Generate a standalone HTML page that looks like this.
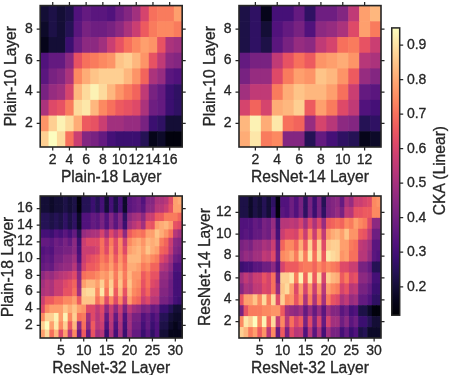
<!DOCTYPE html><html><head><meta charset="utf-8"><style>html,body{margin:0;padding:0;background:#fff;width:449px;height:375px;overflow:hidden}svg{display:block;will-change:transform;filter:blur(0.35px)}text{font-family:"Liberation Sans",sans-serif;fill:#262626;stroke:#262626;stroke-width:0.3px}</style></head><body>
<svg width="449" height="375" viewBox="0 0 449 375">
<rect x="0" y="0" width="449" height="375" fill="#fff"/>
<g><rect x="40.20" y="5.60" width="8.95" height="16.31" fill="#140e36"/><rect x="48.55" y="5.60" width="8.95" height="16.31" fill="#1d1147"/><rect x="56.91" y="5.60" width="8.95" height="16.31" fill="#140e36"/><rect x="65.26" y="5.60" width="8.95" height="16.31" fill="#1d1147"/><rect x="73.61" y="5.60" width="8.95" height="16.31" fill="#51127c"/><rect x="81.96" y="5.60" width="8.95" height="16.31" fill="#641a80"/><rect x="90.32" y="5.60" width="8.95" height="16.31" fill="#5a167e"/><rect x="98.67" y="5.60" width="8.95" height="16.31" fill="#5a167e"/><rect x="107.02" y="5.60" width="8.95" height="16.31" fill="#51127c"/><rect x="115.38" y="5.60" width="8.95" height="16.31" fill="#6e1e81"/><rect x="123.73" y="5.60" width="8.95" height="16.31" fill="#832681"/><rect x="132.08" y="5.60" width="8.95" height="16.31" fill="#a1307e"/><rect x="140.44" y="5.60" width="8.95" height="16.31" fill="#d5446d"/><rect x="148.79" y="5.60" width="8.95" height="16.31" fill="#f7705c"/><rect x="157.14" y="5.60" width="8.95" height="16.31" fill="#f97b5d"/><rect x="165.49" y="5.60" width="8.95" height="16.31" fill="#f97b5d"/><rect x="173.85" y="5.60" width="8.35" height="16.31" fill="#fe9f6d"/><rect x="40.20" y="21.31" width="8.95" height="16.31" fill="#0d0a29"/><rect x="48.55" y="21.31" width="8.95" height="16.31" fill="#1d1147"/><rect x="56.91" y="21.31" width="8.95" height="16.31" fill="#140e36"/><rect x="65.26" y="21.31" width="8.95" height="16.31" fill="#251255"/><rect x="73.61" y="21.31" width="8.95" height="16.31" fill="#5a167e"/><rect x="81.96" y="21.31" width="8.95" height="16.31" fill="#782281"/><rect x="90.32" y="21.31" width="8.95" height="16.31" fill="#6e1e81"/><rect x="98.67" y="21.31" width="8.95" height="16.31" fill="#6e1e81"/><rect x="107.02" y="21.31" width="8.95" height="16.31" fill="#782281"/><rect x="115.38" y="21.31" width="8.95" height="16.31" fill="#8c2981"/><rect x="123.73" y="21.31" width="8.95" height="16.31" fill="#ab337c"/><rect x="132.08" y="21.31" width="8.95" height="16.31" fill="#ca3e72"/><rect x="140.44" y="21.31" width="8.95" height="16.31" fill="#ed5a5f"/><rect x="148.79" y="21.31" width="8.95" height="16.31" fill="#f97b5d"/><rect x="157.14" y="21.31" width="8.95" height="16.31" fill="#fc8961"/><rect x="165.49" y="21.31" width="8.95" height="16.31" fill="#fc8961"/><rect x="173.85" y="21.31" width="8.35" height="16.31" fill="#f97b5d"/><rect x="40.20" y="37.02" width="8.95" height="16.31" fill="#06051a"/><rect x="48.55" y="37.02" width="8.95" height="16.31" fill="#140e36"/><rect x="56.91" y="37.02" width="8.95" height="16.31" fill="#140e36"/><rect x="65.26" y="37.02" width="8.95" height="16.31" fill="#3b0f70"/><rect x="73.61" y="37.02" width="8.95" height="16.31" fill="#6e1e81"/><rect x="81.96" y="37.02" width="8.95" height="16.31" fill="#8c2981"/><rect x="90.32" y="37.02" width="8.95" height="16.31" fill="#8c2981"/><rect x="98.67" y="37.02" width="8.95" height="16.31" fill="#a1307e"/><rect x="107.02" y="37.02" width="8.95" height="16.31" fill="#ca3e72"/><rect x="115.38" y="37.02" width="8.95" height="16.31" fill="#e75263"/><rect x="123.73" y="37.02" width="8.95" height="16.31" fill="#f7705c"/><rect x="132.08" y="37.02" width="8.95" height="16.31" fill="#fc8961"/><rect x="140.44" y="37.02" width="8.95" height="16.31" fill="#fe9f6d"/><rect x="148.79" y="37.02" width="8.95" height="16.31" fill="#fd9467"/><rect x="157.14" y="37.02" width="8.95" height="16.31" fill="#e75263"/><rect x="165.49" y="37.02" width="8.95" height="16.31" fill="#ab337c"/><rect x="173.85" y="37.02" width="8.35" height="16.31" fill="#a1307e"/><rect x="40.20" y="52.73" width="8.95" height="16.31" fill="#51127c"/><rect x="48.55" y="52.73" width="8.95" height="16.31" fill="#641a80"/><rect x="56.91" y="52.73" width="8.95" height="16.31" fill="#641a80"/><rect x="65.26" y="52.73" width="8.95" height="16.31" fill="#8c2981"/><rect x="73.61" y="52.73" width="8.95" height="16.31" fill="#e75263"/><rect x="81.96" y="52.73" width="8.95" height="16.31" fill="#f7705c"/><rect x="90.32" y="52.73" width="8.95" height="16.31" fill="#f97b5d"/><rect x="98.67" y="52.73" width="8.95" height="16.31" fill="#fc8961"/><rect x="107.02" y="52.73" width="8.95" height="16.31" fill="#fd9467"/><rect x="115.38" y="52.73" width="8.95" height="16.31" fill="#fec488"/><rect x="123.73" y="52.73" width="8.95" height="16.31" fill="#fecf92"/><rect x="132.08" y="52.73" width="8.95" height="16.31" fill="#feb77e"/><rect x="140.44" y="52.73" width="8.95" height="16.31" fill="#fd9467"/><rect x="148.79" y="52.73" width="8.95" height="16.31" fill="#e75263"/><rect x="157.14" y="52.73" width="8.95" height="16.31" fill="#c03a76"/><rect x="165.49" y="52.73" width="8.95" height="16.31" fill="#8c2981"/><rect x="173.85" y="52.73" width="8.35" height="16.31" fill="#832681"/><rect x="40.20" y="68.44" width="8.95" height="16.31" fill="#5a167e"/><rect x="48.55" y="68.44" width="8.95" height="16.31" fill="#782281"/><rect x="56.91" y="68.44" width="8.95" height="16.31" fill="#832681"/><rect x="65.26" y="68.44" width="8.95" height="16.31" fill="#ab337c"/><rect x="73.61" y="68.44" width="8.95" height="16.31" fill="#fc8961"/><rect x="81.96" y="68.44" width="8.95" height="16.31" fill="#feac76"/><rect x="90.32" y="68.44" width="8.95" height="16.31" fill="#fec488"/><rect x="98.67" y="68.44" width="8.95" height="16.31" fill="#fecf92"/><rect x="107.02" y="68.44" width="8.95" height="16.31" fill="#fecf92"/><rect x="115.38" y="68.44" width="8.95" height="16.31" fill="#fecf92"/><rect x="123.73" y="68.44" width="8.95" height="16.31" fill="#feb77e"/><rect x="132.08" y="68.44" width="8.95" height="16.31" fill="#fd9467"/><rect x="140.44" y="68.44" width="8.95" height="16.31" fill="#f2645c"/><rect x="148.79" y="68.44" width="8.95" height="16.31" fill="#ab337c"/><rect x="157.14" y="68.44" width="8.95" height="16.31" fill="#962c80"/><rect x="165.49" y="68.44" width="8.95" height="16.31" fill="#5a167e"/><rect x="173.85" y="68.44" width="8.35" height="16.31" fill="#51127c"/><rect x="40.20" y="84.16" width="8.95" height="16.31" fill="#782281"/><rect x="48.55" y="84.16" width="8.95" height="16.31" fill="#962c80"/><rect x="56.91" y="84.16" width="8.95" height="16.31" fill="#a1307e"/><rect x="65.26" y="84.16" width="8.95" height="16.31" fill="#d5446d"/><rect x="73.61" y="84.16" width="8.95" height="16.31" fill="#feb77e"/><rect x="81.96" y="84.16" width="8.95" height="16.31" fill="#fdda9c"/><rect x="90.32" y="84.16" width="8.95" height="16.31" fill="#fcf2b4"/><rect x="98.67" y="84.16" width="8.95" height="16.31" fill="#fdda9c"/><rect x="107.02" y="84.16" width="8.95" height="16.31" fill="#feb77e"/><rect x="115.38" y="84.16" width="8.95" height="16.31" fill="#fd9467"/><rect x="123.73" y="84.16" width="8.95" height="16.31" fill="#f97b5d"/><rect x="132.08" y="84.16" width="8.95" height="16.31" fill="#f2645c"/><rect x="140.44" y="84.16" width="8.95" height="16.31" fill="#c03a76"/><rect x="148.79" y="84.16" width="8.95" height="16.31" fill="#782281"/><rect x="157.14" y="84.16" width="8.95" height="16.31" fill="#641a80"/><rect x="165.49" y="84.16" width="8.95" height="16.31" fill="#3b0f70"/><rect x="173.85" y="84.16" width="8.35" height="16.31" fill="#2f1163"/><rect x="40.20" y="99.87" width="8.95" height="16.31" fill="#ab337c"/><rect x="48.55" y="99.87" width="8.95" height="16.31" fill="#de4968"/><rect x="56.91" y="99.87" width="8.95" height="16.31" fill="#e75263"/><rect x="65.26" y="99.87" width="8.95" height="16.31" fill="#f97b5d"/><rect x="73.61" y="99.87" width="8.95" height="16.31" fill="#fdda9c"/><rect x="81.96" y="99.87" width="8.95" height="16.31" fill="#fde7a9"/><rect x="90.32" y="99.87" width="8.95" height="16.31" fill="#feb77e"/><rect x="98.67" y="99.87" width="8.95" height="16.31" fill="#fc8961"/><rect x="107.02" y="99.87" width="8.95" height="16.31" fill="#f7705c"/><rect x="115.38" y="99.87" width="8.95" height="16.31" fill="#ed5a5f"/><rect x="123.73" y="99.87" width="8.95" height="16.31" fill="#e75263"/><rect x="132.08" y="99.87" width="8.95" height="16.31" fill="#de4968"/><rect x="140.44" y="99.87" width="8.95" height="16.31" fill="#ab337c"/><rect x="148.79" y="99.87" width="8.95" height="16.31" fill="#6e1e81"/><rect x="157.14" y="99.87" width="8.95" height="16.31" fill="#641a80"/><rect x="165.49" y="99.87" width="8.95" height="16.31" fill="#3b0f70"/><rect x="173.85" y="99.87" width="8.35" height="16.31" fill="#2f1163"/><rect x="40.20" y="115.58" width="8.95" height="16.31" fill="#fd9467"/><rect x="48.55" y="115.58" width="8.95" height="16.31" fill="#fecf92"/><rect x="56.91" y="115.58" width="8.95" height="16.31" fill="#fcf2b4"/><rect x="65.26" y="115.58" width="8.95" height="16.31" fill="#fdda9c"/><rect x="73.61" y="115.58" width="8.95" height="16.31" fill="#feac76"/><rect x="81.96" y="115.58" width="8.95" height="16.31" fill="#ed5a5f"/><rect x="90.32" y="115.58" width="8.95" height="16.31" fill="#e75263"/><rect x="98.67" y="115.58" width="8.95" height="16.31" fill="#ca3e72"/><rect x="107.02" y="115.58" width="8.95" height="16.31" fill="#a1307e"/><rect x="115.38" y="115.58" width="8.95" height="16.31" fill="#a1307e"/><rect x="123.73" y="115.58" width="8.95" height="16.31" fill="#962c80"/><rect x="132.08" y="115.58" width="8.95" height="16.31" fill="#962c80"/><rect x="140.44" y="115.58" width="8.95" height="16.31" fill="#782281"/><rect x="148.79" y="115.58" width="8.95" height="16.31" fill="#3b0f70"/><rect x="157.14" y="115.58" width="8.95" height="16.31" fill="#2f1163"/><rect x="165.49" y="115.58" width="8.95" height="16.31" fill="#140e36"/><rect x="173.85" y="115.58" width="8.35" height="16.31" fill="#140e36"/><rect x="40.20" y="131.29" width="8.95" height="15.71" fill="#fecf92"/><rect x="48.55" y="131.29" width="8.95" height="15.71" fill="#fcfdbf"/><rect x="56.91" y="131.29" width="8.95" height="15.71" fill="#fdda9c"/><rect x="65.26" y="131.29" width="8.95" height="15.71" fill="#f7705c"/><rect x="73.61" y="131.29" width="8.95" height="15.71" fill="#ca3e72"/><rect x="81.96" y="131.29" width="8.95" height="15.71" fill="#832681"/><rect x="90.32" y="131.29" width="8.95" height="15.71" fill="#782281"/><rect x="98.67" y="131.29" width="8.95" height="15.71" fill="#641a80"/><rect x="107.02" y="131.29" width="8.95" height="15.71" fill="#451077"/><rect x="115.38" y="131.29" width="8.95" height="15.71" fill="#3b0f70"/><rect x="123.73" y="131.29" width="8.95" height="15.71" fill="#3b0f70"/><rect x="132.08" y="131.29" width="8.95" height="15.71" fill="#3b0f70"/><rect x="140.44" y="131.29" width="8.95" height="15.71" fill="#251255"/><rect x="148.79" y="131.29" width="8.95" height="15.71" fill="#06051a"/><rect x="157.14" y="131.29" width="8.95" height="15.71" fill="#0d0a29"/><rect x="165.49" y="131.29" width="8.95" height="15.71" fill="#02020d"/><rect x="173.85" y="131.29" width="8.35" height="15.71" fill="#02020d"/></g>
<rect x="40.20" y="5.60" width="142.00" height="141.40" fill="none" stroke="#262626" stroke-width="1.6"/>
<text x="52.73" y="164.10" font-size="14" text-anchor="middle">2</text>
<text x="69.44" y="164.10" font-size="14" text-anchor="middle">4</text>
<text x="86.14" y="164.10" font-size="14" text-anchor="middle">6</text>
<text x="102.85" y="164.10" font-size="14" text-anchor="middle">8</text>
<text x="119.55" y="164.10" font-size="14" text-anchor="middle">10</text>
<text x="136.26" y="164.10" font-size="14" text-anchor="middle">12</text>
<text x="152.96" y="164.10" font-size="14" text-anchor="middle">14</text>
<text x="169.67" y="164.10" font-size="14" text-anchor="middle">16</text>
<text x="32.70" y="126.78" font-size="14" text-anchor="end">2</text>
<text x="32.70" y="95.36" font-size="14" text-anchor="end">4</text>
<text x="32.70" y="63.94" font-size="14" text-anchor="end">6</text>
<text x="32.70" y="32.52" font-size="14" text-anchor="end">8</text>
<path d="M52.73 147.00V150.50M52.73 5.60V2.10M69.44 147.00V150.50M69.44 5.60V2.10M86.14 147.00V150.50M86.14 5.60V2.10M102.85 147.00V150.50M102.85 5.60V2.10M119.55 147.00V150.50M119.55 5.60V2.10M136.26 147.00V150.50M136.26 5.60V2.10M152.96 147.00V150.50M152.96 5.60V2.10M169.67 147.00V150.50M169.67 5.60V2.10M40.20 123.43H36.70M182.20 123.43H185.70M40.20 92.01H36.70M182.20 92.01H185.70M40.20 60.59H36.70M182.20 60.59H185.70M40.20 29.17H36.70M182.20 29.17H185.70" stroke="#262626" stroke-width="1.25" fill="none"/>
<text x="111.20" y="181.90" font-size="15.6" text-anchor="middle">Plain-18 Layer</text>
<text transform="translate(15.70 76.30) rotate(-90)" font-size="15.6" text-anchor="middle">Plain-10 Layer</text>
<g><rect x="239.00" y="5.60" width="11.52" height="16.31" fill="#1d1147"/><rect x="249.92" y="5.60" width="11.52" height="16.31" fill="#2f1163"/><rect x="260.85" y="5.60" width="11.52" height="16.31" fill="#06051a"/><rect x="271.77" y="5.60" width="11.52" height="16.31" fill="#451077"/><rect x="282.69" y="5.60" width="11.52" height="16.31" fill="#451077"/><rect x="293.62" y="5.60" width="11.52" height="16.31" fill="#641a80"/><rect x="304.54" y="5.60" width="11.52" height="16.31" fill="#2f1163"/><rect x="315.46" y="5.60" width="11.52" height="16.31" fill="#6e1e81"/><rect x="326.38" y="5.60" width="11.52" height="16.31" fill="#6e1e81"/><rect x="337.31" y="5.60" width="11.52" height="16.31" fill="#832681"/><rect x="348.23" y="5.60" width="11.52" height="16.31" fill="#c03a76"/><rect x="359.15" y="5.60" width="11.52" height="16.31" fill="#fe9f6d"/><rect x="370.08" y="5.60" width="10.92" height="16.31" fill="#feb77e"/><rect x="239.00" y="21.31" width="11.52" height="16.31" fill="#1d1147"/><rect x="249.92" y="21.31" width="11.52" height="16.31" fill="#2f1163"/><rect x="260.85" y="21.31" width="11.52" height="16.31" fill="#140e36"/><rect x="271.77" y="21.31" width="11.52" height="16.31" fill="#51127c"/><rect x="282.69" y="21.31" width="11.52" height="16.31" fill="#641a80"/><rect x="293.62" y="21.31" width="11.52" height="16.31" fill="#782281"/><rect x="304.54" y="21.31" width="11.52" height="16.31" fill="#51127c"/><rect x="315.46" y="21.31" width="11.52" height="16.31" fill="#8c2981"/><rect x="326.38" y="21.31" width="11.52" height="16.31" fill="#962c80"/><rect x="337.31" y="21.31" width="11.52" height="16.31" fill="#ab337c"/><rect x="348.23" y="21.31" width="11.52" height="16.31" fill="#de4968"/><rect x="359.15" y="21.31" width="11.52" height="16.31" fill="#fe9f6d"/><rect x="370.08" y="21.31" width="10.92" height="16.31" fill="#f97b5d"/><rect x="239.00" y="37.02" width="11.52" height="16.31" fill="#1d1147"/><rect x="249.92" y="37.02" width="11.52" height="16.31" fill="#2f1163"/><rect x="260.85" y="37.02" width="11.52" height="16.31" fill="#1d1147"/><rect x="271.77" y="37.02" width="11.52" height="16.31" fill="#5a167e"/><rect x="282.69" y="37.02" width="11.52" height="16.31" fill="#782281"/><rect x="293.62" y="37.02" width="11.52" height="16.31" fill="#962c80"/><rect x="304.54" y="37.02" width="11.52" height="16.31" fill="#8c2981"/><rect x="315.46" y="37.02" width="11.52" height="16.31" fill="#c03a76"/><rect x="326.38" y="37.02" width="11.52" height="16.31" fill="#d5446d"/><rect x="337.31" y="37.02" width="11.52" height="16.31" fill="#f7705c"/><rect x="348.23" y="37.02" width="11.52" height="16.31" fill="#f97b5d"/><rect x="359.15" y="37.02" width="11.52" height="16.31" fill="#e75263"/><rect x="370.08" y="37.02" width="10.92" height="16.31" fill="#ca3e72"/><rect x="239.00" y="52.73" width="11.52" height="16.31" fill="#641a80"/><rect x="249.92" y="52.73" width="11.52" height="16.31" fill="#782281"/><rect x="260.85" y="52.73" width="11.52" height="16.31" fill="#782281"/><rect x="271.77" y="52.73" width="11.52" height="16.31" fill="#c03a76"/><rect x="282.69" y="52.73" width="11.52" height="16.31" fill="#e75263"/><rect x="293.62" y="52.73" width="11.52" height="16.31" fill="#f7705c"/><rect x="304.54" y="52.73" width="11.52" height="16.31" fill="#ed5a5f"/><rect x="315.46" y="52.73" width="11.52" height="16.31" fill="#fd9467"/><rect x="326.38" y="52.73" width="11.52" height="16.31" fill="#fe9f6d"/><rect x="337.31" y="52.73" width="11.52" height="16.31" fill="#feac76"/><rect x="348.23" y="52.73" width="11.52" height="16.31" fill="#fd9467"/><rect x="359.15" y="52.73" width="11.52" height="16.31" fill="#b73779"/><rect x="370.08" y="52.73" width="10.92" height="16.31" fill="#ab337c"/><rect x="239.00" y="68.44" width="11.52" height="16.31" fill="#782281"/><rect x="249.92" y="68.44" width="11.52" height="16.31" fill="#962c80"/><rect x="260.85" y="68.44" width="11.52" height="16.31" fill="#962c80"/><rect x="271.77" y="68.44" width="11.52" height="16.31" fill="#de4968"/><rect x="282.69" y="68.44" width="11.52" height="16.31" fill="#f97b5d"/><rect x="293.62" y="68.44" width="11.52" height="16.31" fill="#fe9f6d"/><rect x="304.54" y="68.44" width="11.52" height="16.31" fill="#fd9467"/><rect x="315.46" y="68.44" width="11.52" height="16.31" fill="#fec488"/><rect x="326.38" y="68.44" width="11.52" height="16.31" fill="#feb77e"/><rect x="337.31" y="68.44" width="11.52" height="16.31" fill="#fd9467"/><rect x="348.23" y="68.44" width="11.52" height="16.31" fill="#ed5a5f"/><rect x="359.15" y="68.44" width="11.52" height="16.31" fill="#962c80"/><rect x="370.08" y="68.44" width="10.92" height="16.31" fill="#832681"/><rect x="239.00" y="84.16" width="11.52" height="16.31" fill="#a1307e"/><rect x="249.92" y="84.16" width="11.52" height="16.31" fill="#c03a76"/><rect x="260.85" y="84.16" width="11.52" height="16.31" fill="#c03a76"/><rect x="271.77" y="84.16" width="11.52" height="16.31" fill="#f97b5d"/><rect x="282.69" y="84.16" width="11.52" height="16.31" fill="#feac76"/><rect x="293.62" y="84.16" width="11.52" height="16.31" fill="#fec488"/><rect x="304.54" y="84.16" width="11.52" height="16.31" fill="#feb77e"/><rect x="315.46" y="84.16" width="11.52" height="16.31" fill="#feb77e"/><rect x="326.38" y="84.16" width="11.52" height="16.31" fill="#fe9f6d"/><rect x="337.31" y="84.16" width="11.52" height="16.31" fill="#f7705c"/><rect x="348.23" y="84.16" width="11.52" height="16.31" fill="#ca3e72"/><rect x="359.15" y="84.16" width="11.52" height="16.31" fill="#641a80"/><rect x="370.08" y="84.16" width="10.92" height="16.31" fill="#5a167e"/><rect x="239.00" y="99.87" width="11.52" height="16.31" fill="#d5446d"/><rect x="249.92" y="99.87" width="11.52" height="16.31" fill="#f2645c"/><rect x="260.85" y="99.87" width="11.52" height="16.31" fill="#d5446d"/><rect x="271.77" y="99.87" width="11.52" height="16.31" fill="#feac76"/><rect x="282.69" y="99.87" width="11.52" height="16.31" fill="#feb77e"/><rect x="293.62" y="99.87" width="11.52" height="16.31" fill="#fecf92"/><rect x="304.54" y="99.87" width="11.52" height="16.31" fill="#ed5a5f"/><rect x="315.46" y="99.87" width="11.52" height="16.31" fill="#fe9f6d"/><rect x="326.38" y="99.87" width="11.52" height="16.31" fill="#f97b5d"/><rect x="337.31" y="99.87" width="11.52" height="16.31" fill="#de4968"/><rect x="348.23" y="99.87" width="11.52" height="16.31" fill="#c03a76"/><rect x="359.15" y="99.87" width="11.52" height="16.31" fill="#51127c"/><rect x="370.08" y="99.87" width="10.92" height="16.31" fill="#451077"/><rect x="239.00" y="115.58" width="11.52" height="16.31" fill="#feb77e"/><rect x="249.92" y="115.58" width="11.52" height="16.31" fill="#fcf2b4"/><rect x="260.85" y="115.58" width="11.52" height="16.31" fill="#feac76"/><rect x="271.77" y="115.58" width="11.52" height="16.31" fill="#fde7a9"/><rect x="282.69" y="115.58" width="11.52" height="16.31" fill="#f7705c"/><rect x="293.62" y="115.58" width="11.52" height="16.31" fill="#f2645c"/><rect x="304.54" y="115.58" width="11.52" height="16.31" fill="#962c80"/><rect x="315.46" y="115.58" width="11.52" height="16.31" fill="#d5446d"/><rect x="326.38" y="115.58" width="11.52" height="16.31" fill="#b73779"/><rect x="337.31" y="115.58" width="11.52" height="16.31" fill="#8c2981"/><rect x="348.23" y="115.58" width="11.52" height="16.31" fill="#832681"/><rect x="359.15" y="115.58" width="11.52" height="16.31" fill="#251255"/><rect x="370.08" y="115.58" width="10.92" height="16.31" fill="#2f1163"/><rect x="239.00" y="131.29" width="11.52" height="15.71" fill="#feac76"/><rect x="249.92" y="131.29" width="11.52" height="15.71" fill="#fde7a9"/><rect x="260.85" y="131.29" width="11.52" height="15.71" fill="#f97b5d"/><rect x="271.77" y="131.29" width="11.52" height="15.71" fill="#fc8961"/><rect x="282.69" y="131.29" width="11.52" height="15.71" fill="#832681"/><rect x="293.62" y="131.29" width="11.52" height="15.71" fill="#832681"/><rect x="304.54" y="131.29" width="11.52" height="15.71" fill="#251255"/><rect x="315.46" y="131.29" width="11.52" height="15.71" fill="#641a80"/><rect x="326.38" y="131.29" width="11.52" height="15.71" fill="#451077"/><rect x="337.31" y="131.29" width="11.52" height="15.71" fill="#2f1163"/><rect x="348.23" y="131.29" width="11.52" height="15.71" fill="#251255"/><rect x="359.15" y="131.29" width="11.52" height="15.71" fill="#06051a"/><rect x="370.08" y="131.29" width="10.92" height="15.71" fill="#0d0a29"/></g>
<rect x="239.00" y="5.60" width="142.00" height="141.40" fill="none" stroke="#262626" stroke-width="1.6"/>
<text x="255.38" y="164.10" font-size="14" text-anchor="middle">2</text>
<text x="277.23" y="164.10" font-size="14" text-anchor="middle">4</text>
<text x="299.08" y="164.10" font-size="14" text-anchor="middle">6</text>
<text x="320.92" y="164.10" font-size="14" text-anchor="middle">8</text>
<text x="342.77" y="164.10" font-size="14" text-anchor="middle">10</text>
<text x="364.62" y="164.10" font-size="14" text-anchor="middle">12</text>
<text x="231.50" y="126.78" font-size="14" text-anchor="end">2</text>
<text x="231.50" y="95.36" font-size="14" text-anchor="end">4</text>
<text x="231.50" y="63.94" font-size="14" text-anchor="end">6</text>
<text x="231.50" y="32.52" font-size="14" text-anchor="end">8</text>
<path d="M255.38 147.00V150.50M255.38 5.60V2.10M277.23 147.00V150.50M277.23 5.60V2.10M299.08 147.00V150.50M299.08 5.60V2.10M320.92 147.00V150.50M320.92 5.60V2.10M342.77 147.00V150.50M342.77 5.60V2.10M364.62 147.00V150.50M364.62 5.60V2.10M239.00 123.43H235.50M381.00 123.43H384.50M239.00 92.01H235.50M381.00 92.01H384.50M239.00 60.59H235.50M381.00 60.59H384.50M239.00 29.17H235.50M381.00 29.17H384.50" stroke="#262626" stroke-width="1.25" fill="none"/>
<text x="310.00" y="181.90" font-size="15.6" text-anchor="middle">ResNet-14 Layer</text>
<text transform="translate(214.70 76.30) rotate(-90)" font-size="15.6" text-anchor="middle">Plain-10 Layer</text>
<g><rect x="40.20" y="196.00" width="5.18" height="8.95" fill="#140e36"/><rect x="44.78" y="196.00" width="5.18" height="8.95" fill="#140e36"/><rect x="49.36" y="196.00" width="5.18" height="8.95" fill="#0d0a29"/><rect x="53.94" y="196.00" width="5.18" height="8.95" fill="#140e36"/><rect x="58.52" y="196.00" width="5.18" height="8.95" fill="#140e36"/><rect x="63.10" y="196.00" width="5.18" height="8.95" fill="#1d1147"/><rect x="67.68" y="196.00" width="5.18" height="8.95" fill="#140e36"/><rect x="72.26" y="196.00" width="5.18" height="8.95" fill="#1d1147"/><rect x="76.85" y="196.00" width="5.18" height="8.95" fill="#02020d"/><rect x="81.43" y="196.00" width="5.18" height="8.95" fill="#251255"/><rect x="86.01" y="196.00" width="5.18" height="8.95" fill="#251255"/><rect x="90.59" y="196.00" width="5.18" height="8.95" fill="#3b0f70"/><rect x="95.17" y="196.00" width="5.18" height="8.95" fill="#251255"/><rect x="99.75" y="196.00" width="5.18" height="8.95" fill="#451077"/><rect x="104.33" y="196.00" width="5.18" height="8.95" fill="#140e36"/><rect x="108.91" y="196.00" width="5.18" height="8.95" fill="#451077"/><rect x="113.49" y="196.00" width="5.18" height="8.95" fill="#1d1147"/><rect x="118.07" y="196.00" width="5.18" height="8.95" fill="#451077"/><rect x="122.65" y="196.00" width="5.18" height="8.95" fill="#0d0a29"/><rect x="127.23" y="196.00" width="5.18" height="8.95" fill="#5a167e"/><rect x="131.81" y="196.00" width="5.18" height="8.95" fill="#641a80"/><rect x="136.39" y="196.00" width="5.18" height="8.95" fill="#6e1e81"/><rect x="140.97" y="196.00" width="5.18" height="8.95" fill="#51127c"/><rect x="145.55" y="196.00" width="5.18" height="8.95" fill="#832681"/><rect x="150.14" y="196.00" width="5.18" height="8.95" fill="#832681"/><rect x="154.72" y="196.00" width="5.18" height="8.95" fill="#ab337c"/><rect x="159.30" y="196.00" width="5.18" height="8.95" fill="#ab337c"/><rect x="163.88" y="196.00" width="5.18" height="8.95" fill="#b73779"/><rect x="168.46" y="196.00" width="5.18" height="8.95" fill="#de4968"/><rect x="173.04" y="196.00" width="5.18" height="8.95" fill="#fe9f6d"/><rect x="177.62" y="196.00" width="4.58" height="8.95" fill="#feac76"/><rect x="40.20" y="204.35" width="5.18" height="8.95" fill="#140e36"/><rect x="44.78" y="204.35" width="5.18" height="8.95" fill="#140e36"/><rect x="49.36" y="204.35" width="5.18" height="8.95" fill="#0d0a29"/><rect x="53.94" y="204.35" width="5.18" height="8.95" fill="#140e36"/><rect x="58.52" y="204.35" width="5.18" height="8.95" fill="#140e36"/><rect x="63.10" y="204.35" width="5.18" height="8.95" fill="#1d1147"/><rect x="67.68" y="204.35" width="5.18" height="8.95" fill="#140e36"/><rect x="72.26" y="204.35" width="5.18" height="8.95" fill="#1d1147"/><rect x="76.85" y="204.35" width="5.18" height="8.95" fill="#02020d"/><rect x="81.43" y="204.35" width="5.18" height="8.95" fill="#251255"/><rect x="86.01" y="204.35" width="5.18" height="8.95" fill="#251255"/><rect x="90.59" y="204.35" width="5.18" height="8.95" fill="#3b0f70"/><rect x="95.17" y="204.35" width="5.18" height="8.95" fill="#251255"/><rect x="99.75" y="204.35" width="5.18" height="8.95" fill="#451077"/><rect x="104.33" y="204.35" width="5.18" height="8.95" fill="#140e36"/><rect x="108.91" y="204.35" width="5.18" height="8.95" fill="#451077"/><rect x="113.49" y="204.35" width="5.18" height="8.95" fill="#1d1147"/><rect x="118.07" y="204.35" width="5.18" height="8.95" fill="#451077"/><rect x="122.65" y="204.35" width="5.18" height="8.95" fill="#0d0a29"/><rect x="127.23" y="204.35" width="5.18" height="8.95" fill="#5a167e"/><rect x="131.81" y="204.35" width="5.18" height="8.95" fill="#641a80"/><rect x="136.39" y="204.35" width="5.18" height="8.95" fill="#6e1e81"/><rect x="140.97" y="204.35" width="5.18" height="8.95" fill="#5a167e"/><rect x="145.55" y="204.35" width="5.18" height="8.95" fill="#8c2981"/><rect x="150.14" y="204.35" width="5.18" height="8.95" fill="#8c2981"/><rect x="154.72" y="204.35" width="5.18" height="8.95" fill="#b73779"/><rect x="159.30" y="204.35" width="5.18" height="8.95" fill="#b73779"/><rect x="163.88" y="204.35" width="5.18" height="8.95" fill="#ca3e72"/><rect x="168.46" y="204.35" width="5.18" height="8.95" fill="#e75263"/><rect x="173.04" y="204.35" width="5.18" height="8.95" fill="#fe9f6d"/><rect x="177.62" y="204.35" width="4.58" height="8.95" fill="#fe9f6d"/><rect x="40.20" y="212.71" width="5.18" height="8.95" fill="#251255"/><rect x="44.78" y="212.71" width="5.18" height="8.95" fill="#251255"/><rect x="49.36" y="212.71" width="5.18" height="8.95" fill="#1d1147"/><rect x="53.94" y="212.71" width="5.18" height="8.95" fill="#251255"/><rect x="58.52" y="212.71" width="5.18" height="8.95" fill="#1d1147"/><rect x="63.10" y="212.71" width="5.18" height="8.95" fill="#2f1163"/><rect x="67.68" y="212.71" width="5.18" height="8.95" fill="#1d1147"/><rect x="72.26" y="212.71" width="5.18" height="8.95" fill="#2f1163"/><rect x="76.85" y="212.71" width="5.18" height="8.95" fill="#0d0a29"/><rect x="81.43" y="212.71" width="5.18" height="8.95" fill="#51127c"/><rect x="86.01" y="212.71" width="5.18" height="8.95" fill="#51127c"/><rect x="90.59" y="212.71" width="5.18" height="8.95" fill="#641a80"/><rect x="95.17" y="212.71" width="5.18" height="8.95" fill="#5a167e"/><rect x="99.75" y="212.71" width="5.18" height="8.95" fill="#782281"/><rect x="104.33" y="212.71" width="5.18" height="8.95" fill="#51127c"/><rect x="108.91" y="212.71" width="5.18" height="8.95" fill="#832681"/><rect x="113.49" y="212.71" width="5.18" height="8.95" fill="#5a167e"/><rect x="118.07" y="212.71" width="5.18" height="8.95" fill="#832681"/><rect x="122.65" y="212.71" width="5.18" height="8.95" fill="#2f1163"/><rect x="127.23" y="212.71" width="5.18" height="8.95" fill="#8c2981"/><rect x="131.81" y="212.71" width="5.18" height="8.95" fill="#a1307e"/><rect x="136.39" y="212.71" width="5.18" height="8.95" fill="#ab337c"/><rect x="140.97" y="212.71" width="5.18" height="8.95" fill="#8c2981"/><rect x="145.55" y="212.71" width="5.18" height="8.95" fill="#ca3e72"/><rect x="150.14" y="212.71" width="5.18" height="8.95" fill="#ca3e72"/><rect x="154.72" y="212.71" width="5.18" height="8.95" fill="#ed5a5f"/><rect x="159.30" y="212.71" width="5.18" height="8.95" fill="#ed5a5f"/><rect x="163.88" y="212.71" width="5.18" height="8.95" fill="#f97b5d"/><rect x="168.46" y="212.71" width="5.18" height="8.95" fill="#f97b5d"/><rect x="173.04" y="212.71" width="5.18" height="8.95" fill="#f97b5d"/><rect x="177.62" y="212.71" width="4.58" height="8.95" fill="#f2645c"/><rect x="40.20" y="221.06" width="5.18" height="8.95" fill="#251255"/><rect x="44.78" y="221.06" width="5.18" height="8.95" fill="#251255"/><rect x="49.36" y="221.06" width="5.18" height="8.95" fill="#1d1147"/><rect x="53.94" y="221.06" width="5.18" height="8.95" fill="#251255"/><rect x="58.52" y="221.06" width="5.18" height="8.95" fill="#1d1147"/><rect x="63.10" y="221.06" width="5.18" height="8.95" fill="#2f1163"/><rect x="67.68" y="221.06" width="5.18" height="8.95" fill="#1d1147"/><rect x="72.26" y="221.06" width="5.18" height="8.95" fill="#2f1163"/><rect x="76.85" y="221.06" width="5.18" height="8.95" fill="#0d0a29"/><rect x="81.43" y="221.06" width="5.18" height="8.95" fill="#51127c"/><rect x="86.01" y="221.06" width="5.18" height="8.95" fill="#51127c"/><rect x="90.59" y="221.06" width="5.18" height="8.95" fill="#641a80"/><rect x="95.17" y="221.06" width="5.18" height="8.95" fill="#5a167e"/><rect x="99.75" y="221.06" width="5.18" height="8.95" fill="#782281"/><rect x="104.33" y="221.06" width="5.18" height="8.95" fill="#51127c"/><rect x="108.91" y="221.06" width="5.18" height="8.95" fill="#832681"/><rect x="113.49" y="221.06" width="5.18" height="8.95" fill="#5a167e"/><rect x="118.07" y="221.06" width="5.18" height="8.95" fill="#832681"/><rect x="122.65" y="221.06" width="5.18" height="8.95" fill="#3b0f70"/><rect x="127.23" y="221.06" width="5.18" height="8.95" fill="#a1307e"/><rect x="131.81" y="221.06" width="5.18" height="8.95" fill="#b73779"/><rect x="136.39" y="221.06" width="5.18" height="8.95" fill="#ca3e72"/><rect x="140.97" y="221.06" width="5.18" height="8.95" fill="#a1307e"/><rect x="145.55" y="221.06" width="5.18" height="8.95" fill="#ed5a5f"/><rect x="150.14" y="221.06" width="5.18" height="8.95" fill="#e75263"/><rect x="154.72" y="221.06" width="5.18" height="8.95" fill="#fe9f6d"/><rect x="159.30" y="221.06" width="5.18" height="8.95" fill="#feac76"/><rect x="163.88" y="221.06" width="5.18" height="8.95" fill="#feb77e"/><rect x="168.46" y="221.06" width="5.18" height="8.95" fill="#fe9f6d"/><rect x="173.04" y="221.06" width="5.18" height="8.95" fill="#e75263"/><rect x="177.62" y="221.06" width="4.58" height="8.95" fill="#de4968"/><rect x="40.20" y="229.41" width="5.18" height="8.95" fill="#451077"/><rect x="44.78" y="229.41" width="5.18" height="8.95" fill="#451077"/><rect x="49.36" y="229.41" width="5.18" height="8.95" fill="#3b0f70"/><rect x="53.94" y="229.41" width="5.18" height="8.95" fill="#51127c"/><rect x="58.52" y="229.41" width="5.18" height="8.95" fill="#451077"/><rect x="63.10" y="229.41" width="5.18" height="8.95" fill="#5a167e"/><rect x="67.68" y="229.41" width="5.18" height="8.95" fill="#451077"/><rect x="72.26" y="229.41" width="5.18" height="8.95" fill="#641a80"/><rect x="76.85" y="229.41" width="5.18" height="8.95" fill="#251255"/><rect x="81.43" y="229.41" width="5.18" height="8.95" fill="#962c80"/><rect x="86.01" y="229.41" width="5.18" height="8.95" fill="#a1307e"/><rect x="90.59" y="229.41" width="5.18" height="8.95" fill="#ab337c"/><rect x="95.17" y="229.41" width="5.18" height="8.95" fill="#ab337c"/><rect x="99.75" y="229.41" width="5.18" height="8.95" fill="#d5446d"/><rect x="104.33" y="229.41" width="5.18" height="8.95" fill="#a1307e"/><rect x="108.91" y="229.41" width="5.18" height="8.95" fill="#de4968"/><rect x="113.49" y="229.41" width="5.18" height="8.95" fill="#b73779"/><rect x="118.07" y="229.41" width="5.18" height="8.95" fill="#de4968"/><rect x="122.65" y="229.41" width="5.18" height="8.95" fill="#8c2981"/><rect x="127.23" y="229.41" width="5.18" height="8.95" fill="#ed5a5f"/><rect x="131.81" y="229.41" width="5.18" height="8.95" fill="#f7705c"/><rect x="136.39" y="229.41" width="5.18" height="8.95" fill="#f97b5d"/><rect x="140.97" y="229.41" width="5.18" height="8.95" fill="#f7705c"/><rect x="145.55" y="229.41" width="5.18" height="8.95" fill="#fe9f6d"/><rect x="150.14" y="229.41" width="5.18" height="8.95" fill="#fe9f6d"/><rect x="154.72" y="229.41" width="5.18" height="8.95" fill="#fec488"/><rect x="159.30" y="229.41" width="5.18" height="8.95" fill="#feac76"/><rect x="163.88" y="229.41" width="5.18" height="8.95" fill="#fd9467"/><rect x="168.46" y="229.41" width="5.18" height="8.95" fill="#f7705c"/><rect x="173.04" y="229.41" width="5.18" height="8.95" fill="#b73779"/><rect x="177.62" y="229.41" width="4.58" height="8.95" fill="#a1307e"/><rect x="40.20" y="237.76" width="5.18" height="8.95" fill="#641a80"/><rect x="44.78" y="237.76" width="5.18" height="8.95" fill="#641a80"/><rect x="49.36" y="237.76" width="5.18" height="8.95" fill="#5a167e"/><rect x="53.94" y="237.76" width="5.18" height="8.95" fill="#6e1e81"/><rect x="58.52" y="237.76" width="5.18" height="8.95" fill="#641a80"/><rect x="63.10" y="237.76" width="5.18" height="8.95" fill="#782281"/><rect x="67.68" y="237.76" width="5.18" height="8.95" fill="#641a80"/><rect x="72.26" y="237.76" width="5.18" height="8.95" fill="#8c2981"/><rect x="76.85" y="237.76" width="5.18" height="8.95" fill="#3b0f70"/><rect x="81.43" y="237.76" width="5.18" height="8.95" fill="#ca3e72"/><rect x="86.01" y="237.76" width="5.18" height="8.95" fill="#de4968"/><rect x="90.59" y="237.76" width="5.18" height="8.95" fill="#de4968"/><rect x="95.17" y="237.76" width="5.18" height="8.95" fill="#de4968"/><rect x="99.75" y="237.76" width="5.18" height="8.95" fill="#f7705c"/><rect x="104.33" y="237.76" width="5.18" height="8.95" fill="#d5446d"/><rect x="108.91" y="237.76" width="5.18" height="8.95" fill="#f97b5d"/><rect x="113.49" y="237.76" width="5.18" height="8.95" fill="#de4968"/><rect x="118.07" y="237.76" width="5.18" height="8.95" fill="#fc8961"/><rect x="122.65" y="237.76" width="5.18" height="8.95" fill="#ca3e72"/><rect x="127.23" y="237.76" width="5.18" height="8.95" fill="#fc8961"/><rect x="131.81" y="237.76" width="5.18" height="8.95" fill="#fe9f6d"/><rect x="136.39" y="237.76" width="5.18" height="8.95" fill="#feac76"/><rect x="140.97" y="237.76" width="5.18" height="8.95" fill="#fd9467"/><rect x="145.55" y="237.76" width="5.18" height="8.95" fill="#feb77e"/><rect x="150.14" y="237.76" width="5.18" height="8.95" fill="#feac76"/><rect x="154.72" y="237.76" width="5.18" height="8.95" fill="#feb77e"/><rect x="159.30" y="237.76" width="5.18" height="8.95" fill="#f97b5d"/><rect x="163.88" y="237.76" width="5.18" height="8.95" fill="#f2645c"/><rect x="168.46" y="237.76" width="5.18" height="8.95" fill="#ca3e72"/><rect x="173.04" y="237.76" width="5.18" height="8.95" fill="#8c2981"/><rect x="177.62" y="237.76" width="4.58" height="8.95" fill="#832681"/><rect x="40.20" y="246.12" width="5.18" height="8.95" fill="#51127c"/><rect x="44.78" y="246.12" width="5.18" height="8.95" fill="#5a167e"/><rect x="49.36" y="246.12" width="5.18" height="8.95" fill="#51127c"/><rect x="53.94" y="246.12" width="5.18" height="8.95" fill="#6e1e81"/><rect x="58.52" y="246.12" width="5.18" height="8.95" fill="#6e1e81"/><rect x="63.10" y="246.12" width="5.18" height="8.95" fill="#782281"/><rect x="67.68" y="246.12" width="5.18" height="8.95" fill="#782281"/><rect x="72.26" y="246.12" width="5.18" height="8.95" fill="#8c2981"/><rect x="76.85" y="246.12" width="5.18" height="8.95" fill="#451077"/><rect x="81.43" y="246.12" width="5.18" height="8.95" fill="#ca3e72"/><rect x="86.01" y="246.12" width="5.18" height="8.95" fill="#ca3e72"/><rect x="90.59" y="246.12" width="5.18" height="8.95" fill="#ca3e72"/><rect x="95.17" y="246.12" width="5.18" height="8.95" fill="#d5446d"/><rect x="99.75" y="246.12" width="5.18" height="8.95" fill="#f7705c"/><rect x="104.33" y="246.12" width="5.18" height="8.95" fill="#de4968"/><rect x="108.91" y="246.12" width="5.18" height="8.95" fill="#fc8961"/><rect x="113.49" y="246.12" width="5.18" height="8.95" fill="#de4968"/><rect x="118.07" y="246.12" width="5.18" height="8.95" fill="#fc8961"/><rect x="122.65" y="246.12" width="5.18" height="8.95" fill="#de4968"/><rect x="127.23" y="246.12" width="5.18" height="8.95" fill="#fe9f6d"/><rect x="131.81" y="246.12" width="5.18" height="8.95" fill="#feac76"/><rect x="136.39" y="246.12" width="5.18" height="8.95" fill="#feb77e"/><rect x="140.97" y="246.12" width="5.18" height="8.95" fill="#fe9f6d"/><rect x="145.55" y="246.12" width="5.18" height="8.95" fill="#fec488"/><rect x="150.14" y="246.12" width="5.18" height="8.95" fill="#feac76"/><rect x="154.72" y="246.12" width="5.18" height="8.95" fill="#fe9f6d"/><rect x="159.30" y="246.12" width="5.18" height="8.95" fill="#f2645c"/><rect x="163.88" y="246.12" width="5.18" height="8.95" fill="#ed5a5f"/><rect x="168.46" y="246.12" width="5.18" height="8.95" fill="#c03a76"/><rect x="173.04" y="246.12" width="5.18" height="8.95" fill="#832681"/><rect x="177.62" y="246.12" width="4.58" height="8.95" fill="#782281"/><rect x="40.20" y="254.47" width="5.18" height="8.95" fill="#5a167e"/><rect x="44.78" y="254.47" width="5.18" height="8.95" fill="#641a80"/><rect x="49.36" y="254.47" width="5.18" height="8.95" fill="#5a167e"/><rect x="53.94" y="254.47" width="5.18" height="8.95" fill="#782281"/><rect x="58.52" y="254.47" width="5.18" height="8.95" fill="#782281"/><rect x="63.10" y="254.47" width="5.18" height="8.95" fill="#8c2981"/><rect x="67.68" y="254.47" width="5.18" height="8.95" fill="#8c2981"/><rect x="72.26" y="254.47" width="5.18" height="8.95" fill="#a1307e"/><rect x="76.85" y="254.47" width="5.18" height="8.95" fill="#51127c"/><rect x="81.43" y="254.47" width="5.18" height="8.95" fill="#ca3e72"/><rect x="86.01" y="254.47" width="5.18" height="8.95" fill="#de4968"/><rect x="90.59" y="254.47" width="5.18" height="8.95" fill="#e75263"/><rect x="95.17" y="254.47" width="5.18" height="8.95" fill="#ed5a5f"/><rect x="99.75" y="254.47" width="5.18" height="8.95" fill="#f97b5d"/><rect x="104.33" y="254.47" width="5.18" height="8.95" fill="#f2645c"/><rect x="108.91" y="254.47" width="5.18" height="8.95" fill="#fd9467"/><rect x="113.49" y="254.47" width="5.18" height="8.95" fill="#ed5a5f"/><rect x="118.07" y="254.47" width="5.18" height="8.95" fill="#fd9467"/><rect x="122.65" y="254.47" width="5.18" height="8.95" fill="#f2645c"/><rect x="127.23" y="254.47" width="5.18" height="8.95" fill="#feb77e"/><rect x="131.81" y="254.47" width="5.18" height="8.95" fill="#feb77e"/><rect x="136.39" y="254.47" width="5.18" height="8.95" fill="#feb77e"/><rect x="140.97" y="254.47" width="5.18" height="8.95" fill="#fd9467"/><rect x="145.55" y="254.47" width="5.18" height="8.95" fill="#fe9f6d"/><rect x="150.14" y="254.47" width="5.18" height="8.95" fill="#fc8961"/><rect x="154.72" y="254.47" width="5.18" height="8.95" fill="#f97b5d"/><rect x="159.30" y="254.47" width="5.18" height="8.95" fill="#de4968"/><rect x="163.88" y="254.47" width="5.18" height="8.95" fill="#ca3e72"/><rect x="168.46" y="254.47" width="5.18" height="8.95" fill="#a1307e"/><rect x="173.04" y="254.47" width="5.18" height="8.95" fill="#6e1e81"/><rect x="177.62" y="254.47" width="4.58" height="8.95" fill="#641a80"/><rect x="40.20" y="262.82" width="5.18" height="8.95" fill="#641a80"/><rect x="44.78" y="262.82" width="5.18" height="8.95" fill="#6e1e81"/><rect x="49.36" y="262.82" width="5.18" height="8.95" fill="#641a80"/><rect x="53.94" y="262.82" width="5.18" height="8.95" fill="#832681"/><rect x="58.52" y="262.82" width="5.18" height="8.95" fill="#8c2981"/><rect x="63.10" y="262.82" width="5.18" height="8.95" fill="#962c80"/><rect x="67.68" y="262.82" width="5.18" height="8.95" fill="#962c80"/><rect x="72.26" y="262.82" width="5.18" height="8.95" fill="#b73779"/><rect x="76.85" y="262.82" width="5.18" height="8.95" fill="#6e1e81"/><rect x="81.43" y="262.82" width="5.18" height="8.95" fill="#d5446d"/><rect x="86.01" y="262.82" width="5.18" height="8.95" fill="#ed5a5f"/><rect x="90.59" y="262.82" width="5.18" height="8.95" fill="#ed5a5f"/><rect x="95.17" y="262.82" width="5.18" height="8.95" fill="#f2645c"/><rect x="99.75" y="262.82" width="5.18" height="8.95" fill="#fc8961"/><rect x="104.33" y="262.82" width="5.18" height="8.95" fill="#f97b5d"/><rect x="108.91" y="262.82" width="5.18" height="8.95" fill="#fe9f6d"/><rect x="113.49" y="262.82" width="5.18" height="8.95" fill="#f7705c"/><rect x="118.07" y="262.82" width="5.18" height="8.95" fill="#fe9f6d"/><rect x="122.65" y="262.82" width="5.18" height="8.95" fill="#f7705c"/><rect x="127.23" y="262.82" width="5.18" height="8.95" fill="#feac76"/><rect x="131.81" y="262.82" width="5.18" height="8.95" fill="#feac76"/><rect x="136.39" y="262.82" width="5.18" height="8.95" fill="#fe9f6d"/><rect x="140.97" y="262.82" width="5.18" height="8.95" fill="#f97b5d"/><rect x="145.55" y="262.82" width="5.18" height="8.95" fill="#fc8961"/><rect x="150.14" y="262.82" width="5.18" height="8.95" fill="#f2645c"/><rect x="154.72" y="262.82" width="5.18" height="8.95" fill="#f2645c"/><rect x="159.30" y="262.82" width="5.18" height="8.95" fill="#b73779"/><rect x="163.88" y="262.82" width="5.18" height="8.95" fill="#ab337c"/><rect x="168.46" y="262.82" width="5.18" height="8.95" fill="#8c2981"/><rect x="173.04" y="262.82" width="5.18" height="8.95" fill="#51127c"/><rect x="177.62" y="262.82" width="4.58" height="8.95" fill="#51127c"/><rect x="40.20" y="271.18" width="5.18" height="8.95" fill="#8c2981"/><rect x="44.78" y="271.18" width="5.18" height="8.95" fill="#a1307e"/><rect x="49.36" y="271.18" width="5.18" height="8.95" fill="#962c80"/><rect x="53.94" y="271.18" width="5.18" height="8.95" fill="#ab337c"/><rect x="58.52" y="271.18" width="5.18" height="8.95" fill="#b73779"/><rect x="63.10" y="271.18" width="5.18" height="8.95" fill="#c03a76"/><rect x="67.68" y="271.18" width="5.18" height="8.95" fill="#ca3e72"/><rect x="72.26" y="271.18" width="5.18" height="8.95" fill="#de4968"/><rect x="76.85" y="271.18" width="5.18" height="8.95" fill="#8c2981"/><rect x="81.43" y="271.18" width="5.18" height="8.95" fill="#f7705c"/><rect x="86.01" y="271.18" width="5.18" height="8.95" fill="#f97b5d"/><rect x="90.59" y="271.18" width="5.18" height="8.95" fill="#f97b5d"/><rect x="95.17" y="271.18" width="5.18" height="8.95" fill="#fc8961"/><rect x="99.75" y="271.18" width="5.18" height="8.95" fill="#fe9f6d"/><rect x="104.33" y="271.18" width="5.18" height="8.95" fill="#fd9467"/><rect x="108.91" y="271.18" width="5.18" height="8.95" fill="#feb77e"/><rect x="113.49" y="271.18" width="5.18" height="8.95" fill="#f97b5d"/><rect x="118.07" y="271.18" width="5.18" height="8.95" fill="#feb77e"/><rect x="122.65" y="271.18" width="5.18" height="8.95" fill="#f97b5d"/><rect x="127.23" y="271.18" width="5.18" height="8.95" fill="#feb77e"/><rect x="131.81" y="271.18" width="5.18" height="8.95" fill="#fd9467"/><rect x="136.39" y="271.18" width="5.18" height="8.95" fill="#fd9467"/><rect x="140.97" y="271.18" width="5.18" height="8.95" fill="#ed5a5f"/><rect x="145.55" y="271.18" width="5.18" height="8.95" fill="#f7705c"/><rect x="150.14" y="271.18" width="5.18" height="8.95" fill="#e75263"/><rect x="154.72" y="271.18" width="5.18" height="8.95" fill="#e75263"/><rect x="159.30" y="271.18" width="5.18" height="8.95" fill="#962c80"/><rect x="163.88" y="271.18" width="5.18" height="8.95" fill="#962c80"/><rect x="168.46" y="271.18" width="5.18" height="8.95" fill="#782281"/><rect x="173.04" y="271.18" width="5.18" height="8.95" fill="#451077"/><rect x="177.62" y="271.18" width="4.58" height="8.95" fill="#451077"/><rect x="40.20" y="279.53" width="5.18" height="8.95" fill="#a1307e"/><rect x="44.78" y="279.53" width="5.18" height="8.95" fill="#b73779"/><rect x="49.36" y="279.53" width="5.18" height="8.95" fill="#ab337c"/><rect x="53.94" y="279.53" width="5.18" height="8.95" fill="#ca3e72"/><rect x="58.52" y="279.53" width="5.18" height="8.95" fill="#ca3e72"/><rect x="63.10" y="279.53" width="5.18" height="8.95" fill="#de4968"/><rect x="67.68" y="279.53" width="5.18" height="8.95" fill="#e75263"/><rect x="72.26" y="279.53" width="5.18" height="8.95" fill="#f2645c"/><rect x="76.85" y="279.53" width="5.18" height="8.95" fill="#962c80"/><rect x="81.43" y="279.53" width="5.18" height="8.95" fill="#fe9f6d"/><rect x="86.01" y="279.53" width="5.18" height="8.95" fill="#feb77e"/><rect x="90.59" y="279.53" width="5.18" height="8.95" fill="#feb77e"/><rect x="95.17" y="279.53" width="5.18" height="8.95" fill="#fe9f6d"/><rect x="99.75" y="279.53" width="5.18" height="8.95" fill="#fecf92"/><rect x="104.33" y="279.53" width="5.18" height="8.95" fill="#fc8961"/><rect x="108.91" y="279.53" width="5.18" height="8.95" fill="#fecf92"/><rect x="113.49" y="279.53" width="5.18" height="8.95" fill="#f7705c"/><rect x="118.07" y="279.53" width="5.18" height="8.95" fill="#fec488"/><rect x="122.65" y="279.53" width="5.18" height="8.95" fill="#f7705c"/><rect x="127.23" y="279.53" width="5.18" height="8.95" fill="#fec488"/><rect x="131.81" y="279.53" width="5.18" height="8.95" fill="#fd9467"/><rect x="136.39" y="279.53" width="5.18" height="8.95" fill="#fc8961"/><rect x="140.97" y="279.53" width="5.18" height="8.95" fill="#e75263"/><rect x="145.55" y="279.53" width="5.18" height="8.95" fill="#f7705c"/><rect x="150.14" y="279.53" width="5.18" height="8.95" fill="#de4968"/><rect x="154.72" y="279.53" width="5.18" height="8.95" fill="#d5446d"/><rect x="159.30" y="279.53" width="5.18" height="8.95" fill="#8c2981"/><rect x="163.88" y="279.53" width="5.18" height="8.95" fill="#8c2981"/><rect x="168.46" y="279.53" width="5.18" height="8.95" fill="#6e1e81"/><rect x="173.04" y="279.53" width="5.18" height="8.95" fill="#451077"/><rect x="177.62" y="279.53" width="4.58" height="8.95" fill="#451077"/><rect x="40.20" y="287.88" width="5.18" height="8.95" fill="#ab337c"/><rect x="44.78" y="287.88" width="5.18" height="8.95" fill="#b73779"/><rect x="49.36" y="287.88" width="5.18" height="8.95" fill="#ab337c"/><rect x="53.94" y="287.88" width="5.18" height="8.95" fill="#ca3e72"/><rect x="58.52" y="287.88" width="5.18" height="8.95" fill="#ca3e72"/><rect x="63.10" y="287.88" width="5.18" height="8.95" fill="#e75263"/><rect x="67.68" y="287.88" width="5.18" height="8.95" fill="#e75263"/><rect x="72.26" y="287.88" width="5.18" height="8.95" fill="#f7705c"/><rect x="76.85" y="287.88" width="5.18" height="8.95" fill="#a1307e"/><rect x="81.43" y="287.88" width="5.18" height="8.95" fill="#fecf92"/><rect x="86.01" y="287.88" width="5.18" height="8.95" fill="#fdda9c"/><rect x="90.59" y="287.88" width="5.18" height="8.95" fill="#fdda9c"/><rect x="95.17" y="287.88" width="5.18" height="8.95" fill="#fc8961"/><rect x="99.75" y="287.88" width="5.18" height="8.95" fill="#fde7a9"/><rect x="104.33" y="287.88" width="5.18" height="8.95" fill="#f7705c"/><rect x="108.91" y="287.88" width="5.18" height="8.95" fill="#fdda9c"/><rect x="113.49" y="287.88" width="5.18" height="8.95" fill="#ed5a5f"/><rect x="118.07" y="287.88" width="5.18" height="8.95" fill="#feb77e"/><rect x="122.65" y="287.88" width="5.18" height="8.95" fill="#e75263"/><rect x="127.23" y="287.88" width="5.18" height="8.95" fill="#feb77e"/><rect x="131.81" y="287.88" width="5.18" height="8.95" fill="#fc8961"/><rect x="136.39" y="287.88" width="5.18" height="8.95" fill="#f97b5d"/><rect x="140.97" y="287.88" width="5.18" height="8.95" fill="#de4968"/><rect x="145.55" y="287.88" width="5.18" height="8.95" fill="#f2645c"/><rect x="150.14" y="287.88" width="5.18" height="8.95" fill="#ca3e72"/><rect x="154.72" y="287.88" width="5.18" height="8.95" fill="#ca3e72"/><rect x="159.30" y="287.88" width="5.18" height="8.95" fill="#832681"/><rect x="163.88" y="287.88" width="5.18" height="8.95" fill="#832681"/><rect x="168.46" y="287.88" width="5.18" height="8.95" fill="#6e1e81"/><rect x="173.04" y="287.88" width="5.18" height="8.95" fill="#451077"/><rect x="177.62" y="287.88" width="4.58" height="8.95" fill="#451077"/><rect x="40.20" y="296.24" width="5.18" height="8.95" fill="#ca3e72"/><rect x="44.78" y="296.24" width="5.18" height="8.95" fill="#ed5a5f"/><rect x="49.36" y="296.24" width="5.18" height="8.95" fill="#ed5a5f"/><rect x="53.94" y="296.24" width="5.18" height="8.95" fill="#f7705c"/><rect x="58.52" y="296.24" width="5.18" height="8.95" fill="#f7705c"/><rect x="63.10" y="296.24" width="5.18" height="8.95" fill="#fc8961"/><rect x="67.68" y="296.24" width="5.18" height="8.95" fill="#fc8961"/><rect x="72.26" y="296.24" width="5.18" height="8.95" fill="#fe9f6d"/><rect x="76.85" y="296.24" width="5.18" height="8.95" fill="#ed5a5f"/><rect x="81.43" y="296.24" width="5.18" height="8.95" fill="#fec488"/><rect x="86.01" y="296.24" width="5.18" height="8.95" fill="#fec488"/><rect x="90.59" y="296.24" width="5.18" height="8.95" fill="#fec488"/><rect x="95.17" y="296.24" width="5.18" height="8.95" fill="#f7705c"/><rect x="99.75" y="296.24" width="5.18" height="8.95" fill="#fe9f6d"/><rect x="104.33" y="296.24" width="5.18" height="8.95" fill="#de4968"/><rect x="108.91" y="296.24" width="5.18" height="8.95" fill="#fc8961"/><rect x="113.49" y="296.24" width="5.18" height="8.95" fill="#de4968"/><rect x="118.07" y="296.24" width="5.18" height="8.95" fill="#fc8961"/><rect x="122.65" y="296.24" width="5.18" height="8.95" fill="#ca3e72"/><rect x="127.23" y="296.24" width="5.18" height="8.95" fill="#fe9f6d"/><rect x="131.81" y="296.24" width="5.18" height="8.95" fill="#f7705c"/><rect x="136.39" y="296.24" width="5.18" height="8.95" fill="#f2645c"/><rect x="140.97" y="296.24" width="5.18" height="8.95" fill="#ca3e72"/><rect x="145.55" y="296.24" width="5.18" height="8.95" fill="#de4968"/><rect x="150.14" y="296.24" width="5.18" height="8.95" fill="#b73779"/><rect x="154.72" y="296.24" width="5.18" height="8.95" fill="#b73779"/><rect x="159.30" y="296.24" width="5.18" height="8.95" fill="#782281"/><rect x="163.88" y="296.24" width="5.18" height="8.95" fill="#782281"/><rect x="168.46" y="296.24" width="5.18" height="8.95" fill="#641a80"/><rect x="173.04" y="296.24" width="5.18" height="8.95" fill="#451077"/><rect x="177.62" y="296.24" width="4.58" height="8.95" fill="#3b0f70"/><rect x="40.20" y="304.59" width="5.18" height="8.95" fill="#de4968"/><rect x="44.78" y="304.59" width="5.18" height="8.95" fill="#fc8961"/><rect x="49.36" y="304.59" width="5.18" height="8.95" fill="#fe9f6d"/><rect x="53.94" y="304.59" width="5.18" height="8.95" fill="#fe9f6d"/><rect x="58.52" y="304.59" width="5.18" height="8.95" fill="#fe9f6d"/><rect x="63.10" y="304.59" width="5.18" height="8.95" fill="#fec488"/><rect x="67.68" y="304.59" width="5.18" height="8.95" fill="#feac76"/><rect x="72.26" y="304.59" width="5.18" height="8.95" fill="#fec488"/><rect x="76.85" y="304.59" width="5.18" height="8.95" fill="#fe9f6d"/><rect x="81.43" y="304.59" width="5.18" height="8.95" fill="#fd9467"/><rect x="86.01" y="304.59" width="5.18" height="8.95" fill="#de4968"/><rect x="90.59" y="304.59" width="5.18" height="8.95" fill="#de4968"/><rect x="95.17" y="304.59" width="5.18" height="8.95" fill="#c03a76"/><rect x="99.75" y="304.59" width="5.18" height="8.95" fill="#de4968"/><rect x="104.33" y="304.59" width="5.18" height="8.95" fill="#8c2981"/><rect x="108.91" y="304.59" width="5.18" height="8.95" fill="#ca3e72"/><rect x="113.49" y="304.59" width="5.18" height="8.95" fill="#8c2981"/><rect x="118.07" y="304.59" width="5.18" height="8.95" fill="#ca3e72"/><rect x="122.65" y="304.59" width="5.18" height="8.95" fill="#782281"/><rect x="127.23" y="304.59" width="5.18" height="8.95" fill="#c03a76"/><rect x="131.81" y="304.59" width="5.18" height="8.95" fill="#a1307e"/><rect x="136.39" y="304.59" width="5.18" height="8.95" fill="#962c80"/><rect x="140.97" y="304.59" width="5.18" height="8.95" fill="#782281"/><rect x="145.55" y="304.59" width="5.18" height="8.95" fill="#832681"/><rect x="150.14" y="304.59" width="5.18" height="8.95" fill="#641a80"/><rect x="154.72" y="304.59" width="5.18" height="8.95" fill="#6e1e81"/><rect x="159.30" y="304.59" width="5.18" height="8.95" fill="#3b0f70"/><rect x="163.88" y="304.59" width="5.18" height="8.95" fill="#3b0f70"/><rect x="168.46" y="304.59" width="5.18" height="8.95" fill="#251255"/><rect x="173.04" y="304.59" width="5.18" height="8.95" fill="#140e36"/><rect x="177.62" y="304.59" width="4.58" height="8.95" fill="#140e36"/><rect x="40.20" y="312.94" width="5.18" height="8.95" fill="#fc8961"/><rect x="44.78" y="312.94" width="5.18" height="8.95" fill="#fecf92"/><rect x="49.36" y="312.94" width="5.18" height="8.95" fill="#fecf92"/><rect x="53.94" y="312.94" width="5.18" height="8.95" fill="#fcf2b4"/><rect x="58.52" y="312.94" width="5.18" height="8.95" fill="#fe9f6d"/><rect x="63.10" y="312.94" width="5.18" height="8.95" fill="#fcf2b4"/><rect x="67.68" y="312.94" width="5.18" height="8.95" fill="#fc8961"/><rect x="72.26" y="312.94" width="5.18" height="8.95" fill="#fecf92"/><rect x="76.85" y="312.94" width="5.18" height="8.95" fill="#f7705c"/><rect x="81.43" y="312.94" width="5.18" height="8.95" fill="#f97b5d"/><rect x="86.01" y="312.94" width="5.18" height="8.95" fill="#a1307e"/><rect x="90.59" y="312.94" width="5.18" height="8.95" fill="#de4968"/><rect x="95.17" y="312.94" width="5.18" height="8.95" fill="#b73779"/><rect x="99.75" y="312.94" width="5.18" height="8.95" fill="#d5446d"/><rect x="104.33" y="312.94" width="5.18" height="8.95" fill="#641a80"/><rect x="108.91" y="312.94" width="5.18" height="8.95" fill="#c03a76"/><rect x="113.49" y="312.94" width="5.18" height="8.95" fill="#641a80"/><rect x="118.07" y="312.94" width="5.18" height="8.95" fill="#b73779"/><rect x="122.65" y="312.94" width="5.18" height="8.95" fill="#51127c"/><rect x="127.23" y="312.94" width="5.18" height="8.95" fill="#a1307e"/><rect x="131.81" y="312.94" width="5.18" height="8.95" fill="#782281"/><rect x="136.39" y="312.94" width="5.18" height="8.95" fill="#782281"/><rect x="140.97" y="312.94" width="5.18" height="8.95" fill="#51127c"/><rect x="145.55" y="312.94" width="5.18" height="8.95" fill="#641a80"/><rect x="150.14" y="312.94" width="5.18" height="8.95" fill="#451077"/><rect x="154.72" y="312.94" width="5.18" height="8.95" fill="#5a167e"/><rect x="159.30" y="312.94" width="5.18" height="8.95" fill="#251255"/><rect x="163.88" y="312.94" width="5.18" height="8.95" fill="#251255"/><rect x="168.46" y="312.94" width="5.18" height="8.95" fill="#140e36"/><rect x="173.04" y="312.94" width="5.18" height="8.95" fill="#0d0a29"/><rect x="177.62" y="312.94" width="4.58" height="8.95" fill="#0d0a29"/><rect x="40.20" y="321.29" width="5.18" height="8.95" fill="#fecf92"/><rect x="44.78" y="321.29" width="5.18" height="8.95" fill="#fcfdbf"/><rect x="49.36" y="321.29" width="5.18" height="8.95" fill="#fe9f6d"/><rect x="53.94" y="321.29" width="5.18" height="8.95" fill="#fde7a9"/><rect x="58.52" y="321.29" width="5.18" height="8.95" fill="#fc8961"/><rect x="63.10" y="321.29" width="5.18" height="8.95" fill="#fecf92"/><rect x="67.68" y="321.29" width="5.18" height="8.95" fill="#ed5a5f"/><rect x="72.26" y="321.29" width="5.18" height="8.95" fill="#feb77e"/><rect x="76.85" y="321.29" width="5.18" height="8.95" fill="#8c2981"/><rect x="81.43" y="321.29" width="5.18" height="8.95" fill="#f7705c"/><rect x="86.01" y="321.29" width="5.18" height="8.95" fill="#8c2981"/><rect x="90.59" y="321.29" width="5.18" height="8.95" fill="#ed5a5f"/><rect x="95.17" y="321.29" width="5.18" height="8.95" fill="#b73779"/><rect x="99.75" y="321.29" width="5.18" height="8.95" fill="#ca3e72"/><rect x="104.33" y="321.29" width="5.18" height="8.95" fill="#51127c"/><rect x="108.91" y="321.29" width="5.18" height="8.95" fill="#b73779"/><rect x="113.49" y="321.29" width="5.18" height="8.95" fill="#51127c"/><rect x="118.07" y="321.29" width="5.18" height="8.95" fill="#ab337c"/><rect x="122.65" y="321.29" width="5.18" height="8.95" fill="#451077"/><rect x="127.23" y="321.29" width="5.18" height="8.95" fill="#a1307e"/><rect x="131.81" y="321.29" width="5.18" height="8.95" fill="#6e1e81"/><rect x="136.39" y="321.29" width="5.18" height="8.95" fill="#6e1e81"/><rect x="140.97" y="321.29" width="5.18" height="8.95" fill="#451077"/><rect x="145.55" y="321.29" width="5.18" height="8.95" fill="#641a80"/><rect x="150.14" y="321.29" width="5.18" height="8.95" fill="#3b0f70"/><rect x="154.72" y="321.29" width="5.18" height="8.95" fill="#51127c"/><rect x="159.30" y="321.29" width="5.18" height="8.95" fill="#1d1147"/><rect x="163.88" y="321.29" width="5.18" height="8.95" fill="#1d1147"/><rect x="168.46" y="321.29" width="5.18" height="8.95" fill="#0d0a29"/><rect x="173.04" y="321.29" width="5.18" height="8.95" fill="#06051a"/><rect x="177.62" y="321.29" width="4.58" height="8.95" fill="#0d0a29"/><rect x="40.20" y="329.65" width="5.18" height="8.35" fill="#fe9f6d"/><rect x="44.78" y="329.65" width="5.18" height="8.35" fill="#fdda9c"/><rect x="49.36" y="329.65" width="5.18" height="8.35" fill="#f7705c"/><rect x="53.94" y="329.65" width="5.18" height="8.35" fill="#feb77e"/><rect x="58.52" y="329.65" width="5.18" height="8.35" fill="#de4968"/><rect x="63.10" y="329.65" width="5.18" height="8.35" fill="#fe9f6d"/><rect x="67.68" y="329.65" width="5.18" height="8.35" fill="#b73779"/><rect x="72.26" y="329.65" width="5.18" height="8.35" fill="#fc8961"/><rect x="76.85" y="329.65" width="5.18" height="8.35" fill="#641a80"/><rect x="81.43" y="329.65" width="5.18" height="8.35" fill="#ed5a5f"/><rect x="86.01" y="329.65" width="5.18" height="8.35" fill="#641a80"/><rect x="90.59" y="329.65" width="5.18" height="8.35" fill="#e75263"/><rect x="95.17" y="329.65" width="5.18" height="8.35" fill="#a1307e"/><rect x="99.75" y="329.65" width="5.18" height="8.35" fill="#b73779"/><rect x="104.33" y="329.65" width="5.18" height="8.35" fill="#3b0f70"/><rect x="108.91" y="329.65" width="5.18" height="8.35" fill="#ab337c"/><rect x="113.49" y="329.65" width="5.18" height="8.35" fill="#451077"/><rect x="118.07" y="329.65" width="5.18" height="8.35" fill="#a1307e"/><rect x="122.65" y="329.65" width="5.18" height="8.35" fill="#3b0f70"/><rect x="127.23" y="329.65" width="5.18" height="8.35" fill="#962c80"/><rect x="131.81" y="329.65" width="5.18" height="8.35" fill="#641a80"/><rect x="136.39" y="329.65" width="5.18" height="8.35" fill="#641a80"/><rect x="140.97" y="329.65" width="5.18" height="8.35" fill="#3b0f70"/><rect x="145.55" y="329.65" width="5.18" height="8.35" fill="#5a167e"/><rect x="150.14" y="329.65" width="5.18" height="8.35" fill="#2f1163"/><rect x="154.72" y="329.65" width="5.18" height="8.35" fill="#51127c"/><rect x="159.30" y="329.65" width="5.18" height="8.35" fill="#140e36"/><rect x="163.88" y="329.65" width="5.18" height="8.35" fill="#140e36"/><rect x="168.46" y="329.65" width="5.18" height="8.35" fill="#06051a"/><rect x="173.04" y="329.65" width="5.18" height="8.35" fill="#06051a"/><rect x="177.62" y="329.65" width="4.58" height="8.35" fill="#06051a"/></g>
<rect x="40.20" y="196.00" width="142.00" height="142.00" fill="none" stroke="#262626" stroke-width="1.6"/>
<text x="60.81" y="355.10" font-size="14" text-anchor="middle">5</text>
<text x="83.72" y="355.10" font-size="14" text-anchor="middle">10</text>
<text x="106.62" y="355.10" font-size="14" text-anchor="middle">15</text>
<text x="129.52" y="355.10" font-size="14" text-anchor="middle">20</text>
<text x="152.43" y="355.10" font-size="14" text-anchor="middle">25</text>
<text x="175.33" y="355.10" font-size="14" text-anchor="middle">30</text>
<text x="32.70" y="328.82" font-size="14" text-anchor="end">2</text>
<text x="32.70" y="312.11" font-size="14" text-anchor="end">4</text>
<text x="32.70" y="295.41" font-size="14" text-anchor="end">6</text>
<text x="32.70" y="278.70" font-size="14" text-anchor="end">8</text>
<text x="32.70" y="262.00" font-size="14" text-anchor="end">10</text>
<text x="32.70" y="245.29" font-size="14" text-anchor="end">12</text>
<text x="32.70" y="228.59" font-size="14" text-anchor="end">14</text>
<text x="32.70" y="211.88" font-size="14" text-anchor="end">16</text>
<path d="M60.81 338.00V341.50M60.81 196.00V192.50M83.72 338.00V341.50M83.72 196.00V192.50M106.62 338.00V341.50M106.62 196.00V192.50M129.52 338.00V341.50M129.52 196.00V192.50M152.43 338.00V341.50M152.43 196.00V192.50M175.33 338.00V341.50M175.33 196.00V192.50M40.20 325.47H36.70M182.20 325.47H185.70M40.20 308.76H36.70M182.20 308.76H185.70M40.20 292.06H36.70M182.20 292.06H185.70M40.20 275.35H36.70M182.20 275.35H185.70M40.20 258.65H36.70M182.20 258.65H185.70M40.20 241.94H36.70M182.20 241.94H185.70M40.20 225.24H36.70M182.20 225.24H185.70M40.20 208.53H36.70M182.20 208.53H185.70" stroke="#262626" stroke-width="1.25" fill="none"/>
<text x="111.20" y="372.90" font-size="15.6" text-anchor="middle">ResNet-32 Layer</text>
<text transform="translate(12.70 267.00) rotate(-90)" font-size="15.6" text-anchor="middle">Plain-18 Layer</text>
<g><rect x="239.00" y="196.00" width="5.18" height="11.52" fill="#1d1147"/><rect x="243.58" y="196.00" width="5.18" height="11.52" fill="#1d1147"/><rect x="248.16" y="196.00" width="5.18" height="11.52" fill="#0d0a29"/><rect x="252.74" y="196.00" width="5.18" height="11.52" fill="#1d1147"/><rect x="257.32" y="196.00" width="5.18" height="11.52" fill="#140e36"/><rect x="261.90" y="196.00" width="5.18" height="11.52" fill="#251255"/><rect x="266.48" y="196.00" width="5.18" height="11.52" fill="#140e36"/><rect x="271.06" y="196.00" width="5.18" height="11.52" fill="#2f1163"/><rect x="275.65" y="196.00" width="5.18" height="11.52" fill="#02020d"/><rect x="280.23" y="196.00" width="5.18" height="11.52" fill="#51127c"/><rect x="284.81" y="196.00" width="5.18" height="11.52" fill="#51127c"/><rect x="289.39" y="196.00" width="5.18" height="11.52" fill="#6e1e81"/><rect x="293.97" y="196.00" width="5.18" height="11.52" fill="#51127c"/><rect x="298.55" y="196.00" width="5.18" height="11.52" fill="#782281"/><rect x="303.13" y="196.00" width="5.18" height="11.52" fill="#2f1163"/><rect x="307.71" y="196.00" width="5.18" height="11.52" fill="#782281"/><rect x="312.29" y="196.00" width="5.18" height="11.52" fill="#3b0f70"/><rect x="316.87" y="196.00" width="5.18" height="11.52" fill="#782281"/><rect x="321.45" y="196.00" width="5.18" height="11.52" fill="#251255"/><rect x="326.03" y="196.00" width="5.18" height="11.52" fill="#782281"/><rect x="330.61" y="196.00" width="5.18" height="11.52" fill="#832681"/><rect x="335.19" y="196.00" width="5.18" height="11.52" fill="#8c2981"/><rect x="339.77" y="196.00" width="5.18" height="11.52" fill="#641a80"/><rect x="344.35" y="196.00" width="5.18" height="11.52" fill="#ab337c"/><rect x="348.94" y="196.00" width="5.18" height="11.52" fill="#962c80"/><rect x="353.52" y="196.00" width="5.18" height="11.52" fill="#ca3e72"/><rect x="358.10" y="196.00" width="5.18" height="11.52" fill="#ca3e72"/><rect x="362.68" y="196.00" width="5.18" height="11.52" fill="#d5446d"/><rect x="367.26" y="196.00" width="5.18" height="11.52" fill="#de4968"/><rect x="371.84" y="196.00" width="5.18" height="11.52" fill="#fc8961"/><rect x="376.42" y="196.00" width="4.58" height="11.52" fill="#fd9467"/><rect x="239.00" y="206.92" width="5.18" height="11.52" fill="#1d1147"/><rect x="243.58" y="206.92" width="5.18" height="11.52" fill="#1d1147"/><rect x="248.16" y="206.92" width="5.18" height="11.52" fill="#0d0a29"/><rect x="252.74" y="206.92" width="5.18" height="11.52" fill="#1d1147"/><rect x="257.32" y="206.92" width="5.18" height="11.52" fill="#140e36"/><rect x="261.90" y="206.92" width="5.18" height="11.52" fill="#251255"/><rect x="266.48" y="206.92" width="5.18" height="11.52" fill="#140e36"/><rect x="271.06" y="206.92" width="5.18" height="11.52" fill="#3b0f70"/><rect x="275.65" y="206.92" width="5.18" height="11.52" fill="#02020d"/><rect x="280.23" y="206.92" width="5.18" height="11.52" fill="#5a167e"/><rect x="284.81" y="206.92" width="5.18" height="11.52" fill="#51127c"/><rect x="289.39" y="206.92" width="5.18" height="11.52" fill="#6e1e81"/><rect x="293.97" y="206.92" width="5.18" height="11.52" fill="#51127c"/><rect x="298.55" y="206.92" width="5.18" height="11.52" fill="#782281"/><rect x="303.13" y="206.92" width="5.18" height="11.52" fill="#2f1163"/><rect x="307.71" y="206.92" width="5.18" height="11.52" fill="#782281"/><rect x="312.29" y="206.92" width="5.18" height="11.52" fill="#3b0f70"/><rect x="316.87" y="206.92" width="5.18" height="11.52" fill="#782281"/><rect x="321.45" y="206.92" width="5.18" height="11.52" fill="#2f1163"/><rect x="326.03" y="206.92" width="5.18" height="11.52" fill="#782281"/><rect x="330.61" y="206.92" width="5.18" height="11.52" fill="#832681"/><rect x="335.19" y="206.92" width="5.18" height="11.52" fill="#962c80"/><rect x="339.77" y="206.92" width="5.18" height="11.52" fill="#782281"/><rect x="344.35" y="206.92" width="5.18" height="11.52" fill="#c03a76"/><rect x="348.94" y="206.92" width="5.18" height="11.52" fill="#b73779"/><rect x="353.52" y="206.92" width="5.18" height="11.52" fill="#e75263"/><rect x="358.10" y="206.92" width="5.18" height="11.52" fill="#e75263"/><rect x="362.68" y="206.92" width="5.18" height="11.52" fill="#ed5a5f"/><rect x="367.26" y="206.92" width="5.18" height="11.52" fill="#ed5a5f"/><rect x="371.84" y="206.92" width="5.18" height="11.52" fill="#fc8961"/><rect x="376.42" y="206.92" width="4.58" height="11.52" fill="#fc8961"/><rect x="239.00" y="217.85" width="5.18" height="11.52" fill="#51127c"/><rect x="243.58" y="217.85" width="5.18" height="11.52" fill="#51127c"/><rect x="248.16" y="217.85" width="5.18" height="11.52" fill="#51127c"/><rect x="252.74" y="217.85" width="5.18" height="11.52" fill="#641a80"/><rect x="257.32" y="217.85" width="5.18" height="11.52" fill="#5a167e"/><rect x="261.90" y="217.85" width="5.18" height="11.52" fill="#782281"/><rect x="266.48" y="217.85" width="5.18" height="11.52" fill="#6e1e81"/><rect x="271.06" y="217.85" width="5.18" height="11.52" fill="#962c80"/><rect x="275.65" y="217.85" width="5.18" height="11.52" fill="#3b0f70"/><rect x="280.23" y="217.85" width="5.18" height="11.52" fill="#b73779"/><rect x="284.81" y="217.85" width="5.18" height="11.52" fill="#b73779"/><rect x="289.39" y="217.85" width="5.18" height="11.52" fill="#c03a76"/><rect x="293.97" y="217.85" width="5.18" height="11.52" fill="#b73779"/><rect x="298.55" y="217.85" width="5.18" height="11.52" fill="#d5446d"/><rect x="303.13" y="217.85" width="5.18" height="11.52" fill="#a1307e"/><rect x="307.71" y="217.85" width="5.18" height="11.52" fill="#de4968"/><rect x="312.29" y="217.85" width="5.18" height="11.52" fill="#ab337c"/><rect x="316.87" y="217.85" width="5.18" height="11.52" fill="#de4968"/><rect x="321.45" y="217.85" width="5.18" height="11.52" fill="#962c80"/><rect x="326.03" y="217.85" width="5.18" height="11.52" fill="#ed5a5f"/><rect x="330.61" y="217.85" width="5.18" height="11.52" fill="#f2645c"/><rect x="335.19" y="217.85" width="5.18" height="11.52" fill="#f7705c"/><rect x="339.77" y="217.85" width="5.18" height="11.52" fill="#f2645c"/><rect x="344.35" y="217.85" width="5.18" height="11.52" fill="#fc8961"/><rect x="348.94" y="217.85" width="5.18" height="11.52" fill="#f97b5d"/><rect x="353.52" y="217.85" width="5.18" height="11.52" fill="#fe9f6d"/><rect x="358.10" y="217.85" width="5.18" height="11.52" fill="#fc8961"/><rect x="362.68" y="217.85" width="5.18" height="11.52" fill="#f97b5d"/><rect x="367.26" y="217.85" width="5.18" height="11.52" fill="#de4968"/><rect x="371.84" y="217.85" width="5.18" height="11.52" fill="#8c2981"/><rect x="376.42" y="217.85" width="4.58" height="11.52" fill="#8c2981"/><rect x="239.00" y="228.77" width="5.18" height="11.52" fill="#51127c"/><rect x="243.58" y="228.77" width="5.18" height="11.52" fill="#5a167e"/><rect x="248.16" y="228.77" width="5.18" height="11.52" fill="#51127c"/><rect x="252.74" y="228.77" width="5.18" height="11.52" fill="#641a80"/><rect x="257.32" y="228.77" width="5.18" height="11.52" fill="#641a80"/><rect x="261.90" y="228.77" width="5.18" height="11.52" fill="#782281"/><rect x="266.48" y="228.77" width="5.18" height="11.52" fill="#6e1e81"/><rect x="271.06" y="228.77" width="5.18" height="11.52" fill="#a1307e"/><rect x="275.65" y="228.77" width="5.18" height="11.52" fill="#451077"/><rect x="280.23" y="228.77" width="5.18" height="11.52" fill="#ca3e72"/><rect x="284.81" y="228.77" width="5.18" height="11.52" fill="#de4968"/><rect x="289.39" y="228.77" width="5.18" height="11.52" fill="#de4968"/><rect x="293.97" y="228.77" width="5.18" height="11.52" fill="#d5446d"/><rect x="298.55" y="228.77" width="5.18" height="11.52" fill="#f7705c"/><rect x="303.13" y="228.77" width="5.18" height="11.52" fill="#ca3e72"/><rect x="307.71" y="228.77" width="5.18" height="11.52" fill="#fc8961"/><rect x="312.29" y="228.77" width="5.18" height="11.52" fill="#ca3e72"/><rect x="316.87" y="228.77" width="5.18" height="11.52" fill="#fc8961"/><rect x="321.45" y="228.77" width="5.18" height="11.52" fill="#c03a76"/><rect x="326.03" y="228.77" width="5.18" height="11.52" fill="#fd9467"/><rect x="330.61" y="228.77" width="5.18" height="11.52" fill="#feac76"/><rect x="335.19" y="228.77" width="5.18" height="11.52" fill="#feb77e"/><rect x="339.77" y="228.77" width="5.18" height="11.52" fill="#fe9f6d"/><rect x="344.35" y="228.77" width="5.18" height="11.52" fill="#fec488"/><rect x="348.94" y="228.77" width="5.18" height="11.52" fill="#fd9467"/><rect x="353.52" y="228.77" width="5.18" height="11.52" fill="#fd9467"/><rect x="358.10" y="228.77" width="5.18" height="11.52" fill="#ed5a5f"/><rect x="362.68" y="228.77" width="5.18" height="11.52" fill="#e75263"/><rect x="367.26" y="228.77" width="5.18" height="11.52" fill="#c03a76"/><rect x="371.84" y="228.77" width="5.18" height="11.52" fill="#6e1e81"/><rect x="376.42" y="228.77" width="4.58" height="11.52" fill="#6e1e81"/><rect x="239.00" y="239.69" width="5.18" height="11.52" fill="#782281"/><rect x="243.58" y="239.69" width="5.18" height="11.52" fill="#832681"/><rect x="248.16" y="239.69" width="5.18" height="11.52" fill="#782281"/><rect x="252.74" y="239.69" width="5.18" height="11.52" fill="#962c80"/><rect x="257.32" y="239.69" width="5.18" height="11.52" fill="#962c80"/><rect x="261.90" y="239.69" width="5.18" height="11.52" fill="#ab337c"/><rect x="266.48" y="239.69" width="5.18" height="11.52" fill="#a1307e"/><rect x="271.06" y="239.69" width="5.18" height="11.52" fill="#ca3e72"/><rect x="275.65" y="239.69" width="5.18" height="11.52" fill="#641a80"/><rect x="280.23" y="239.69" width="5.18" height="11.52" fill="#f2645c"/><rect x="284.81" y="239.69" width="5.18" height="11.52" fill="#fc8961"/><rect x="289.39" y="239.69" width="5.18" height="11.52" fill="#fc8961"/><rect x="293.97" y="239.69" width="5.18" height="11.52" fill="#f2645c"/><rect x="298.55" y="239.69" width="5.18" height="11.52" fill="#feac76"/><rect x="303.13" y="239.69" width="5.18" height="11.52" fill="#ed5a5f"/><rect x="307.71" y="239.69" width="5.18" height="11.52" fill="#fecf92"/><rect x="312.29" y="239.69" width="5.18" height="11.52" fill="#ed5a5f"/><rect x="316.87" y="239.69" width="5.18" height="11.52" fill="#fecf92"/><rect x="321.45" y="239.69" width="5.18" height="11.52" fill="#de4968"/><rect x="326.03" y="239.69" width="5.18" height="11.52" fill="#fec488"/><rect x="330.61" y="239.69" width="5.18" height="11.52" fill="#fecf92"/><rect x="335.19" y="239.69" width="5.18" height="11.52" fill="#fecf92"/><rect x="339.77" y="239.69" width="5.18" height="11.52" fill="#fe9f6d"/><rect x="344.35" y="239.69" width="5.18" height="11.52" fill="#fe9f6d"/><rect x="348.94" y="239.69" width="5.18" height="11.52" fill="#f97b5d"/><rect x="353.52" y="239.69" width="5.18" height="11.52" fill="#f7705c"/><rect x="358.10" y="239.69" width="5.18" height="11.52" fill="#c03a76"/><rect x="362.68" y="239.69" width="5.18" height="11.52" fill="#b73779"/><rect x="367.26" y="239.69" width="5.18" height="11.52" fill="#a1307e"/><rect x="371.84" y="239.69" width="5.18" height="11.52" fill="#5a167e"/><rect x="376.42" y="239.69" width="4.58" height="11.52" fill="#5a167e"/><rect x="239.00" y="250.62" width="5.18" height="11.52" fill="#832681"/><rect x="243.58" y="250.62" width="5.18" height="11.52" fill="#962c80"/><rect x="248.16" y="250.62" width="5.18" height="11.52" fill="#8c2981"/><rect x="252.74" y="250.62" width="5.18" height="11.52" fill="#a1307e"/><rect x="257.32" y="250.62" width="5.18" height="11.52" fill="#a1307e"/><rect x="261.90" y="250.62" width="5.18" height="11.52" fill="#c03a76"/><rect x="266.48" y="250.62" width="5.18" height="11.52" fill="#b73779"/><rect x="271.06" y="250.62" width="5.18" height="11.52" fill="#de4968"/><rect x="275.65" y="250.62" width="5.18" height="11.52" fill="#6e1e81"/><rect x="280.23" y="250.62" width="5.18" height="11.52" fill="#fc8961"/><rect x="284.81" y="250.62" width="5.18" height="11.52" fill="#fd9467"/><rect x="289.39" y="250.62" width="5.18" height="11.52" fill="#feac76"/><rect x="293.97" y="250.62" width="5.18" height="11.52" fill="#f97b5d"/><rect x="298.55" y="250.62" width="5.18" height="11.52" fill="#fecf92"/><rect x="303.13" y="250.62" width="5.18" height="11.52" fill="#f97b5d"/><rect x="307.71" y="250.62" width="5.18" height="11.52" fill="#fde7a9"/><rect x="312.29" y="250.62" width="5.18" height="11.52" fill="#f7705c"/><rect x="316.87" y="250.62" width="5.18" height="11.52" fill="#fdda9c"/><rect x="321.45" y="250.62" width="5.18" height="11.52" fill="#ed5a5f"/><rect x="326.03" y="250.62" width="5.18" height="11.52" fill="#fde7a9"/><rect x="330.61" y="250.62" width="5.18" height="11.52" fill="#fdda9c"/><rect x="335.19" y="250.62" width="5.18" height="11.52" fill="#fecf92"/><rect x="339.77" y="250.62" width="5.18" height="11.52" fill="#fd9467"/><rect x="344.35" y="250.62" width="5.18" height="11.52" fill="#fe9f6d"/><rect x="348.94" y="250.62" width="5.18" height="11.52" fill="#f7705c"/><rect x="353.52" y="250.62" width="5.18" height="11.52" fill="#f7705c"/><rect x="358.10" y="250.62" width="5.18" height="11.52" fill="#b73779"/><rect x="362.68" y="250.62" width="5.18" height="11.52" fill="#b73779"/><rect x="367.26" y="250.62" width="5.18" height="11.52" fill="#962c80"/><rect x="371.84" y="250.62" width="5.18" height="11.52" fill="#5a167e"/><rect x="376.42" y="250.62" width="4.58" height="11.52" fill="#51127c"/><rect x="239.00" y="261.54" width="5.18" height="11.52" fill="#3b0f70"/><rect x="243.58" y="261.54" width="5.18" height="11.52" fill="#451077"/><rect x="248.16" y="261.54" width="5.18" height="11.52" fill="#451077"/><rect x="252.74" y="261.54" width="5.18" height="11.52" fill="#5a167e"/><rect x="257.32" y="261.54" width="5.18" height="11.52" fill="#5a167e"/><rect x="261.90" y="261.54" width="5.18" height="11.52" fill="#6e1e81"/><rect x="266.48" y="261.54" width="5.18" height="11.52" fill="#6e1e81"/><rect x="271.06" y="261.54" width="5.18" height="11.52" fill="#8c2981"/><rect x="275.65" y="261.54" width="5.18" height="11.52" fill="#51127c"/><rect x="280.23" y="261.54" width="5.18" height="11.52" fill="#d5446d"/><rect x="284.81" y="261.54" width="5.18" height="11.52" fill="#ed5a5f"/><rect x="289.39" y="261.54" width="5.18" height="11.52" fill="#ed5a5f"/><rect x="293.97" y="261.54" width="5.18" height="11.52" fill="#ed5a5f"/><rect x="298.55" y="261.54" width="5.18" height="11.52" fill="#f7705c"/><rect x="303.13" y="261.54" width="5.18" height="11.52" fill="#f97b5d"/><rect x="307.71" y="261.54" width="5.18" height="11.52" fill="#f97b5d"/><rect x="312.29" y="261.54" width="5.18" height="11.52" fill="#f2645c"/><rect x="316.87" y="261.54" width="5.18" height="11.52" fill="#fc8961"/><rect x="321.45" y="261.54" width="5.18" height="11.52" fill="#f7705c"/><rect x="326.03" y="261.54" width="5.18" height="11.52" fill="#fc8961"/><rect x="330.61" y="261.54" width="5.18" height="11.52" fill="#f97b5d"/><rect x="335.19" y="261.54" width="5.18" height="11.52" fill="#f7705c"/><rect x="339.77" y="261.54" width="5.18" height="11.52" fill="#de4968"/><rect x="344.35" y="261.54" width="5.18" height="11.52" fill="#de4968"/><rect x="348.94" y="261.54" width="5.18" height="11.52" fill="#ca3e72"/><rect x="353.52" y="261.54" width="5.18" height="11.52" fill="#ca3e72"/><rect x="358.10" y="261.54" width="5.18" height="11.52" fill="#782281"/><rect x="362.68" y="261.54" width="5.18" height="11.52" fill="#782281"/><rect x="367.26" y="261.54" width="5.18" height="11.52" fill="#641a80"/><rect x="371.84" y="261.54" width="5.18" height="11.52" fill="#251255"/><rect x="376.42" y="261.54" width="4.58" height="11.52" fill="#251255"/><rect x="239.00" y="272.46" width="5.18" height="11.52" fill="#a1307e"/><rect x="243.58" y="272.46" width="5.18" height="11.52" fill="#c03a76"/><rect x="248.16" y="272.46" width="5.18" height="11.52" fill="#ab337c"/><rect x="252.74" y="272.46" width="5.18" height="11.52" fill="#ca3e72"/><rect x="257.32" y="272.46" width="5.18" height="11.52" fill="#ca3e72"/><rect x="261.90" y="272.46" width="5.18" height="11.52" fill="#e75263"/><rect x="266.48" y="272.46" width="5.18" height="11.52" fill="#d5446d"/><rect x="271.06" y="272.46" width="5.18" height="11.52" fill="#f7705c"/><rect x="275.65" y="272.46" width="5.18" height="11.52" fill="#782281"/><rect x="280.23" y="272.46" width="5.18" height="11.52" fill="#fecf92"/><rect x="284.81" y="272.46" width="5.18" height="11.52" fill="#fecf92"/><rect x="289.39" y="272.46" width="5.18" height="11.52" fill="#fde7a9"/><rect x="293.97" y="272.46" width="5.18" height="11.52" fill="#f97b5d"/><rect x="298.55" y="272.46" width="5.18" height="11.52" fill="#fcf2b4"/><rect x="303.13" y="272.46" width="5.18" height="11.52" fill="#f2645c"/><rect x="307.71" y="272.46" width="5.18" height="11.52" fill="#fde7a9"/><rect x="312.29" y="272.46" width="5.18" height="11.52" fill="#ed5a5f"/><rect x="316.87" y="272.46" width="5.18" height="11.52" fill="#fdda9c"/><rect x="321.45" y="272.46" width="5.18" height="11.52" fill="#d5446d"/><rect x="326.03" y="272.46" width="5.18" height="11.52" fill="#fecf92"/><rect x="330.61" y="272.46" width="5.18" height="11.52" fill="#feb77e"/><rect x="335.19" y="272.46" width="5.18" height="11.52" fill="#feac76"/><rect x="339.77" y="272.46" width="5.18" height="11.52" fill="#ed5a5f"/><rect x="344.35" y="272.46" width="5.18" height="11.52" fill="#f97b5d"/><rect x="348.94" y="272.46" width="5.18" height="11.52" fill="#de4968"/><rect x="353.52" y="272.46" width="5.18" height="11.52" fill="#e75263"/><rect x="358.10" y="272.46" width="5.18" height="11.52" fill="#8c2981"/><rect x="362.68" y="272.46" width="5.18" height="11.52" fill="#8c2981"/><rect x="367.26" y="272.46" width="5.18" height="11.52" fill="#782281"/><rect x="371.84" y="272.46" width="5.18" height="11.52" fill="#451077"/><rect x="376.42" y="272.46" width="4.58" height="11.52" fill="#451077"/><rect x="239.00" y="283.38" width="5.18" height="11.52" fill="#832681"/><rect x="243.58" y="283.38" width="5.18" height="11.52" fill="#ab337c"/><rect x="248.16" y="283.38" width="5.18" height="11.52" fill="#a1307e"/><rect x="252.74" y="283.38" width="5.18" height="11.52" fill="#c03a76"/><rect x="257.32" y="283.38" width="5.18" height="11.52" fill="#c03a76"/><rect x="261.90" y="283.38" width="5.18" height="11.52" fill="#de4968"/><rect x="266.48" y="283.38" width="5.18" height="11.52" fill="#d5446d"/><rect x="271.06" y="283.38" width="5.18" height="11.52" fill="#f7705c"/><rect x="275.65" y="283.38" width="5.18" height="11.52" fill="#962c80"/><rect x="280.23" y="283.38" width="5.18" height="11.52" fill="#fec488"/><rect x="284.81" y="283.38" width="5.18" height="11.52" fill="#fdda9c"/><rect x="289.39" y="283.38" width="5.18" height="11.52" fill="#fe9f6d"/><rect x="293.97" y="283.38" width="5.18" height="11.52" fill="#de4968"/><rect x="298.55" y="283.38" width="5.18" height="11.52" fill="#fe9f6d"/><rect x="303.13" y="283.38" width="5.18" height="11.52" fill="#d5446d"/><rect x="307.71" y="283.38" width="5.18" height="11.52" fill="#fd9467"/><rect x="312.29" y="283.38" width="5.18" height="11.52" fill="#ca3e72"/><rect x="316.87" y="283.38" width="5.18" height="11.52" fill="#fd9467"/><rect x="321.45" y="283.38" width="5.18" height="11.52" fill="#b73779"/><rect x="326.03" y="283.38" width="5.18" height="11.52" fill="#fe9f6d"/><rect x="330.61" y="283.38" width="5.18" height="11.52" fill="#fc8961"/><rect x="335.19" y="283.38" width="5.18" height="11.52" fill="#f97b5d"/><rect x="339.77" y="283.38" width="5.18" height="11.52" fill="#d5446d"/><rect x="344.35" y="283.38" width="5.18" height="11.52" fill="#e75263"/><rect x="348.94" y="283.38" width="5.18" height="11.52" fill="#b73779"/><rect x="353.52" y="283.38" width="5.18" height="11.52" fill="#c03a76"/><rect x="358.10" y="283.38" width="5.18" height="11.52" fill="#782281"/><rect x="362.68" y="283.38" width="5.18" height="11.52" fill="#782281"/><rect x="367.26" y="283.38" width="5.18" height="11.52" fill="#641a80"/><rect x="371.84" y="283.38" width="5.18" height="11.52" fill="#3b0f70"/><rect x="376.42" y="283.38" width="4.58" height="11.52" fill="#3b0f70"/><rect x="239.00" y="294.31" width="5.18" height="11.52" fill="#e75263"/><rect x="243.58" y="294.31" width="5.18" height="11.52" fill="#fe9f6d"/><rect x="248.16" y="294.31" width="5.18" height="11.52" fill="#fe9f6d"/><rect x="252.74" y="294.31" width="5.18" height="11.52" fill="#fec488"/><rect x="257.32" y="294.31" width="5.18" height="11.52" fill="#fc8961"/><rect x="261.90" y="294.31" width="5.18" height="11.52" fill="#fdda9c"/><rect x="266.48" y="294.31" width="5.18" height="11.52" fill="#f97b5d"/><rect x="271.06" y="294.31" width="5.18" height="11.52" fill="#fdda9c"/><rect x="275.65" y="294.31" width="5.18" height="11.52" fill="#de4968"/><rect x="280.23" y="294.31" width="5.18" height="11.52" fill="#fecf92"/><rect x="284.81" y="294.31" width="5.18" height="11.52" fill="#fc8961"/><rect x="289.39" y="294.31" width="5.18" height="11.52" fill="#fd9467"/><rect x="293.97" y="294.31" width="5.18" height="11.52" fill="#e75263"/><rect x="298.55" y="294.31" width="5.18" height="11.52" fill="#fc8961"/><rect x="303.13" y="294.31" width="5.18" height="11.52" fill="#ab337c"/><rect x="307.71" y="294.31" width="5.18" height="11.52" fill="#f97b5d"/><rect x="312.29" y="294.31" width="5.18" height="11.52" fill="#ab337c"/><rect x="316.87" y="294.31" width="5.18" height="11.52" fill="#f7705c"/><rect x="321.45" y="294.31" width="5.18" height="11.52" fill="#a1307e"/><rect x="326.03" y="294.31" width="5.18" height="11.52" fill="#f97b5d"/><rect x="330.61" y="294.31" width="5.18" height="11.52" fill="#e75263"/><rect x="335.19" y="294.31" width="5.18" height="11.52" fill="#de4968"/><rect x="339.77" y="294.31" width="5.18" height="11.52" fill="#ab337c"/><rect x="344.35" y="294.31" width="5.18" height="11.52" fill="#c03a76"/><rect x="348.94" y="294.31" width="5.18" height="11.52" fill="#962c80"/><rect x="353.52" y="294.31" width="5.18" height="11.52" fill="#a1307e"/><rect x="358.10" y="294.31" width="5.18" height="11.52" fill="#641a80"/><rect x="362.68" y="294.31" width="5.18" height="11.52" fill="#641a80"/><rect x="367.26" y="294.31" width="5.18" height="11.52" fill="#51127c"/><rect x="371.84" y="294.31" width="5.18" height="11.52" fill="#2f1163"/><rect x="376.42" y="294.31" width="4.58" height="11.52" fill="#2f1163"/><rect x="239.00" y="305.23" width="5.18" height="11.52" fill="#782281"/><rect x="243.58" y="305.23" width="5.18" height="11.52" fill="#e75263"/><rect x="248.16" y="305.23" width="5.18" height="11.52" fill="#f97b5d"/><rect x="252.74" y="305.23" width="5.18" height="11.52" fill="#f97b5d"/><rect x="257.32" y="305.23" width="5.18" height="11.52" fill="#f97b5d"/><rect x="261.90" y="305.23" width="5.18" height="11.52" fill="#fc8961"/><rect x="266.48" y="305.23" width="5.18" height="11.52" fill="#fc8961"/><rect x="271.06" y="305.23" width="5.18" height="11.52" fill="#fd9467"/><rect x="275.65" y="305.23" width="5.18" height="11.52" fill="#fd9467"/><rect x="280.23" y="305.23" width="5.18" height="11.52" fill="#ed5a5f"/><rect x="284.81" y="305.23" width="5.18" height="11.52" fill="#a1307e"/><rect x="289.39" y="305.23" width="5.18" height="11.52" fill="#962c80"/><rect x="293.97" y="305.23" width="5.18" height="11.52" fill="#8c2981"/><rect x="298.55" y="305.23" width="5.18" height="11.52" fill="#a1307e"/><rect x="303.13" y="305.23" width="5.18" height="11.52" fill="#641a80"/><rect x="307.71" y="305.23" width="5.18" height="11.52" fill="#962c80"/><rect x="312.29" y="305.23" width="5.18" height="11.52" fill="#641a80"/><rect x="316.87" y="305.23" width="5.18" height="11.52" fill="#962c80"/><rect x="321.45" y="305.23" width="5.18" height="11.52" fill="#5a167e"/><rect x="326.03" y="305.23" width="5.18" height="11.52" fill="#a1307e"/><rect x="330.61" y="305.23" width="5.18" height="11.52" fill="#832681"/><rect x="335.19" y="305.23" width="5.18" height="11.52" fill="#832681"/><rect x="339.77" y="305.23" width="5.18" height="11.52" fill="#5a167e"/><rect x="344.35" y="305.23" width="5.18" height="11.52" fill="#6e1e81"/><rect x="348.94" y="305.23" width="5.18" height="11.52" fill="#451077"/><rect x="353.52" y="305.23" width="5.18" height="11.52" fill="#51127c"/><rect x="358.10" y="305.23" width="5.18" height="11.52" fill="#1d1147"/><rect x="362.68" y="305.23" width="5.18" height="11.52" fill="#1d1147"/><rect x="367.26" y="305.23" width="5.18" height="11.52" fill="#0d0a29"/><rect x="371.84" y="305.23" width="5.18" height="11.52" fill="#02020d"/><rect x="376.42" y="305.23" width="4.58" height="11.52" fill="#02020d"/><rect x="239.00" y="316.15" width="5.18" height="11.52" fill="#fc8961"/><rect x="243.58" y="316.15" width="5.18" height="11.52" fill="#fde7a9"/><rect x="248.16" y="316.15" width="5.18" height="11.52" fill="#fecf92"/><rect x="252.74" y="316.15" width="5.18" height="11.52" fill="#fcfdbf"/><rect x="257.32" y="316.15" width="5.18" height="11.52" fill="#fc8961"/><rect x="261.90" y="316.15" width="5.18" height="11.52" fill="#fcf2b4"/><rect x="266.48" y="316.15" width="5.18" height="11.52" fill="#f2645c"/><rect x="271.06" y="316.15" width="5.18" height="11.52" fill="#fdda9c"/><rect x="275.65" y="316.15" width="5.18" height="11.52" fill="#c03a76"/><rect x="280.23" y="316.15" width="5.18" height="11.52" fill="#fc8961"/><rect x="284.81" y="316.15" width="5.18" height="11.52" fill="#b73779"/><rect x="289.39" y="316.15" width="5.18" height="11.52" fill="#f7705c"/><rect x="293.97" y="316.15" width="5.18" height="11.52" fill="#d5446d"/><rect x="298.55" y="316.15" width="5.18" height="11.52" fill="#ed5a5f"/><rect x="303.13" y="316.15" width="5.18" height="11.52" fill="#782281"/><rect x="307.71" y="316.15" width="5.18" height="11.52" fill="#de4968"/><rect x="312.29" y="316.15" width="5.18" height="11.52" fill="#782281"/><rect x="316.87" y="316.15" width="5.18" height="11.52" fill="#d5446d"/><rect x="321.45" y="316.15" width="5.18" height="11.52" fill="#641a80"/><rect x="326.03" y="316.15" width="5.18" height="11.52" fill="#d5446d"/><rect x="330.61" y="316.15" width="5.18" height="11.52" fill="#a1307e"/><rect x="335.19" y="316.15" width="5.18" height="11.52" fill="#a1307e"/><rect x="339.77" y="316.15" width="5.18" height="11.52" fill="#6e1e81"/><rect x="344.35" y="316.15" width="5.18" height="11.52" fill="#8c2981"/><rect x="348.94" y="316.15" width="5.18" height="11.52" fill="#5a167e"/><rect x="353.52" y="316.15" width="5.18" height="11.52" fill="#6e1e81"/><rect x="358.10" y="316.15" width="5.18" height="11.52" fill="#3b0f70"/><rect x="362.68" y="316.15" width="5.18" height="11.52" fill="#3b0f70"/><rect x="367.26" y="316.15" width="5.18" height="11.52" fill="#251255"/><rect x="371.84" y="316.15" width="5.18" height="11.52" fill="#140e36"/><rect x="376.42" y="316.15" width="4.58" height="11.52" fill="#140e36"/><rect x="239.00" y="327.08" width="5.18" height="10.92" fill="#fecf92"/><rect x="243.58" y="327.08" width="5.18" height="10.92" fill="#feb77e"/><rect x="248.16" y="327.08" width="5.18" height="10.92" fill="#f97b5d"/><rect x="252.74" y="327.08" width="5.18" height="10.92" fill="#fe9f6d"/><rect x="257.32" y="327.08" width="5.18" height="10.92" fill="#ed5a5f"/><rect x="261.90" y="327.08" width="5.18" height="10.92" fill="#fd9467"/><rect x="266.48" y="327.08" width="5.18" height="10.92" fill="#b73779"/><rect x="271.06" y="327.08" width="5.18" height="10.92" fill="#fc8961"/><rect x="275.65" y="327.08" width="5.18" height="10.92" fill="#641a80"/><rect x="280.23" y="327.08" width="5.18" height="10.92" fill="#ed5a5f"/><rect x="284.81" y="327.08" width="5.18" height="10.92" fill="#782281"/><rect x="289.39" y="327.08" width="5.18" height="10.92" fill="#de4968"/><rect x="293.97" y="327.08" width="5.18" height="10.92" fill="#b73779"/><rect x="298.55" y="327.08" width="5.18" height="10.92" fill="#c03a76"/><rect x="303.13" y="327.08" width="5.18" height="10.92" fill="#51127c"/><rect x="307.71" y="327.08" width="5.18" height="10.92" fill="#b73779"/><rect x="312.29" y="327.08" width="5.18" height="10.92" fill="#5a167e"/><rect x="316.87" y="327.08" width="5.18" height="10.92" fill="#ab337c"/><rect x="321.45" y="327.08" width="5.18" height="10.92" fill="#451077"/><rect x="326.03" y="327.08" width="5.18" height="10.92" fill="#a1307e"/><rect x="330.61" y="327.08" width="5.18" height="10.92" fill="#782281"/><rect x="335.19" y="327.08" width="5.18" height="10.92" fill="#782281"/><rect x="339.77" y="327.08" width="5.18" height="10.92" fill="#451077"/><rect x="344.35" y="327.08" width="5.18" height="10.92" fill="#641a80"/><rect x="348.94" y="327.08" width="5.18" height="10.92" fill="#3b0f70"/><rect x="353.52" y="327.08" width="5.18" height="10.92" fill="#51127c"/><rect x="358.10" y="327.08" width="5.18" height="10.92" fill="#1d1147"/><rect x="362.68" y="327.08" width="5.18" height="10.92" fill="#251255"/><rect x="367.26" y="327.08" width="5.18" height="10.92" fill="#0d0a29"/><rect x="371.84" y="327.08" width="5.18" height="10.92" fill="#0d0a29"/><rect x="376.42" y="327.08" width="4.58" height="10.92" fill="#0d0a29"/></g>
<rect x="239.00" y="196.00" width="142.00" height="142.00" fill="none" stroke="#262626" stroke-width="1.6"/>
<text x="259.61" y="355.10" font-size="14" text-anchor="middle">5</text>
<text x="282.52" y="355.10" font-size="14" text-anchor="middle">10</text>
<text x="305.42" y="355.10" font-size="14" text-anchor="middle">15</text>
<text x="328.32" y="355.10" font-size="14" text-anchor="middle">20</text>
<text x="351.23" y="355.10" font-size="14" text-anchor="middle">25</text>
<text x="374.13" y="355.10" font-size="14" text-anchor="middle">30</text>
<text x="231.50" y="324.97" font-size="14" text-anchor="end">2</text>
<text x="231.50" y="303.12" font-size="14" text-anchor="end">4</text>
<text x="231.50" y="281.27" font-size="14" text-anchor="end">6</text>
<text x="231.50" y="259.43" font-size="14" text-anchor="end">8</text>
<text x="231.50" y="237.58" font-size="14" text-anchor="end">10</text>
<text x="231.50" y="215.73" font-size="14" text-anchor="end">12</text>
<path d="M259.61 338.00V341.50M259.61 196.00V192.50M282.52 338.00V341.50M282.52 196.00V192.50M305.42 338.00V341.50M305.42 196.00V192.50M328.32 338.00V341.50M328.32 196.00V192.50M351.23 338.00V341.50M351.23 196.00V192.50M374.13 338.00V341.50M374.13 196.00V192.50M239.00 321.62H235.50M381.00 321.62H384.50M239.00 299.77H235.50M381.00 299.77H384.50M239.00 277.92H235.50M381.00 277.92H384.50M239.00 256.08H235.50M381.00 256.08H384.50M239.00 234.23H235.50M381.00 234.23H384.50M239.00 212.38H235.50M381.00 212.38H384.50" stroke="#262626" stroke-width="1.25" fill="none"/>
<text x="310.00" y="372.90" font-size="15.6" text-anchor="middle">ResNet-32 Layer</text>
<text transform="translate(210.40 267.00) rotate(-90)" font-size="15.6" text-anchor="middle">ResNet-14 Layer</text>
<defs><linearGradient id="cb" x1="0" y1="0" x2="0" y2="1"><stop offset="0.000" stop-color="#fcfdbf"/><stop offset="0.050" stop-color="#fde7a9"/><stop offset="0.100" stop-color="#fecf92"/><stop offset="0.150" stop-color="#feb77e"/><stop offset="0.200" stop-color="#fe9f6d"/><stop offset="0.250" stop-color="#fc8961"/><stop offset="0.300" stop-color="#f7705c"/><stop offset="0.350" stop-color="#ed5a5f"/><stop offset="0.400" stop-color="#de4968"/><stop offset="0.450" stop-color="#ca3e72"/><stop offset="0.500" stop-color="#b73779"/><stop offset="0.550" stop-color="#a1307e"/><stop offset="0.600" stop-color="#8c2981"/><stop offset="0.650" stop-color="#782281"/><stop offset="0.700" stop-color="#641a80"/><stop offset="0.750" stop-color="#51127c"/><stop offset="0.800" stop-color="#3b0f70"/><stop offset="0.850" stop-color="#251255"/><stop offset="0.900" stop-color="#140e36"/><stop offset="0.950" stop-color="#06051a"/><stop offset="1.000" stop-color="#000004"/></linearGradient></defs>
<rect x="391.75" y="27.90" width="7.95" height="287.30" fill="url(#cb)" stroke="#262626" stroke-width="1.5"/>
<text x="406.90" y="290.85" font-size="14">0.2</text>
<text x="406.90" y="256.34" font-size="14">0.3</text>
<text x="406.90" y="221.84" font-size="14">0.4</text>
<text x="406.90" y="187.33" font-size="14">0.5</text>
<text x="406.90" y="152.82" font-size="14">0.6</text>
<text x="406.90" y="118.32" font-size="14">0.7</text>
<text x="406.90" y="83.81" font-size="14">0.8</text>
<text x="406.90" y="49.30" font-size="14">0.9</text>
<path d="M399.70 286.75H403.20M399.70 252.24H403.20M399.70 217.74H403.20M399.70 183.23H403.20M399.70 148.72H403.20M399.70 114.22H403.20M399.70 79.71H403.20M399.70 45.20H403.20" stroke="#262626" stroke-width="1.25" fill="none"/>
<text transform="translate(444.60 170.60) rotate(-90)" font-size="15.6" text-anchor="middle">CKA (Linear)</text>
</svg></body></html>
